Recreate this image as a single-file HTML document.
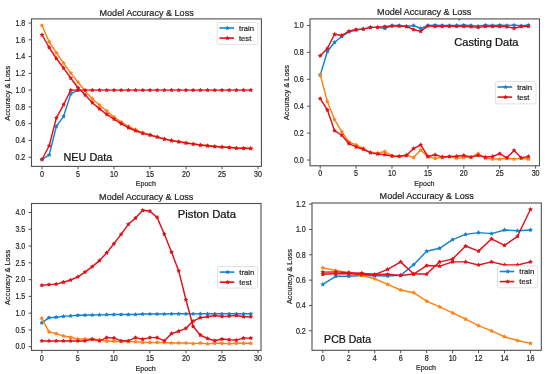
<!DOCTYPE html>
<html><head><meta charset="utf-8"><style>
html,body{margin:0;padding:0;background:#fff;width:550px;height:374px;overflow:hidden;}
svg{display:block;filter:blur(0.3px);}
text{font-family:"Liberation Sans", sans-serif;stroke:#222;stroke-width:0.2px;}
</style></head><body>
<svg width="550" height="374" viewBox="0 0 550 374" font-family='"Liberation Sans", sans-serif'>
<rect width="550" height="374" fill="#fff"/>
<clipPath id="c0"><rect x="28.5" y="15.899999999999999" width="235.89999999999998" height="153.5"/></clipPath>
<g clip-path="url(#c0)">
<polyline points="42.00,25.52 49.20,41.79 56.40,52.87 63.60,63.19 70.80,73.17 78.00,82.23 85.20,90.96 92.40,98.76 99.60,105.22 106.80,111.10 114.00,117.14 121.20,122.00 128.40,126.36 135.60,129.72 142.80,132.66 150.00,134.75 157.20,136.85 164.40,138.87 171.60,140.46 178.80,141.63 186.00,142.81 193.20,143.90 200.40,144.91 207.60,145.66 214.80,146.42 222.00,146.92 229.20,147.51 236.40,148.01 243.60,148.26 250.80,148.51" fill="none" stroke="#ff8214" stroke-width="1.45" stroke-linejoin="round" stroke-linecap="round"/>
<path d="M42.00,23.12 L42.79,24.42 L44.28,24.78 L43.28,25.93 L43.41,27.46 L42.00,26.87 L40.59,27.46 L40.72,25.93 L39.72,24.78 L41.21,24.42Z M49.20,39.39 L49.99,40.70 L51.48,41.05 L50.48,42.21 L50.61,43.74 L49.20,43.14 L47.79,43.74 L47.92,42.21 L46.92,41.05 L48.41,40.70Z M56.40,50.47 L57.19,51.78 L58.68,52.13 L57.68,53.29 L57.81,54.81 L56.40,54.22 L54.99,54.81 L55.12,53.29 L54.12,52.13 L55.61,51.78Z M63.60,60.79 L64.39,62.10 L65.88,62.45 L64.88,63.61 L65.01,65.13 L63.60,64.54 L62.19,65.13 L62.32,63.61 L61.32,62.45 L62.81,62.10Z M70.80,70.77 L71.59,72.08 L73.08,72.43 L72.08,73.59 L72.21,75.11 L70.80,74.52 L69.39,75.11 L69.52,73.59 L68.52,72.43 L70.01,72.08Z M78.00,79.83 L78.79,81.14 L80.28,81.49 L79.28,82.65 L79.41,84.18 L78.00,83.58 L76.59,84.18 L76.72,82.65 L75.72,81.49 L77.21,81.14Z M85.20,88.56 L85.99,89.87 L87.48,90.22 L86.48,91.38 L86.61,92.90 L85.20,92.31 L83.79,92.90 L83.92,91.38 L82.92,90.22 L84.41,89.87Z M92.40,96.36 L93.19,97.67 L94.68,98.02 L93.68,99.18 L93.81,100.70 L92.40,100.11 L90.99,100.70 L91.12,99.18 L90.12,98.02 L91.61,97.67Z M99.60,102.82 L100.39,104.13 L101.88,104.48 L100.88,105.64 L101.01,107.16 L99.60,106.57 L98.19,107.16 L98.32,105.64 L97.32,104.48 L98.81,104.13Z M106.80,108.70 L107.59,110.00 L109.08,110.35 L108.08,111.51 L108.21,113.04 L106.80,112.45 L105.39,113.04 L105.52,111.51 L104.52,110.35 L106.01,110.00Z M114.00,114.74 L114.79,116.04 L116.28,116.39 L115.28,117.55 L115.41,119.08 L114.00,118.49 L112.59,119.08 L112.72,117.55 L111.72,116.39 L113.21,116.04Z M121.20,119.60 L121.99,120.91 L123.48,121.26 L122.48,122.42 L122.61,123.94 L121.20,123.35 L119.79,123.94 L119.92,122.42 L118.92,121.26 L120.41,120.91Z M128.40,123.96 L129.19,125.27 L130.68,125.62 L129.68,126.78 L129.81,128.31 L128.40,127.71 L126.99,128.31 L127.12,126.78 L126.12,125.62 L127.61,125.27Z M135.60,127.32 L136.39,128.63 L137.88,128.98 L136.88,130.14 L137.01,131.66 L135.60,131.07 L134.19,131.66 L134.32,130.14 L133.32,128.98 L134.81,128.63Z M142.80,130.26 L143.59,131.57 L145.08,131.92 L144.08,133.07 L144.21,134.60 L142.80,134.01 L141.39,134.60 L141.52,133.07 L140.52,131.92 L142.01,131.57Z M150.00,132.35 L150.79,133.66 L152.28,134.01 L151.28,135.17 L151.41,136.70 L150.00,136.10 L148.59,136.70 L148.72,135.17 L147.72,134.01 L149.21,133.66Z M157.20,134.45 L157.99,135.76 L159.48,136.11 L158.48,137.27 L158.61,138.79 L157.20,138.20 L155.79,138.79 L155.92,137.27 L154.92,136.11 L156.41,135.76Z M164.40,136.47 L165.19,137.77 L166.68,138.12 L165.68,139.28 L165.81,140.81 L164.40,140.22 L162.99,140.81 L163.12,139.28 L162.12,138.12 L163.61,137.77Z M171.60,138.06 L172.39,139.37 L173.88,139.72 L172.88,140.88 L173.01,142.40 L171.60,141.81 L170.19,142.40 L170.32,140.88 L169.32,139.72 L170.81,139.37Z M178.80,139.23 L179.59,140.54 L181.08,140.89 L180.08,142.05 L180.21,143.58 L178.80,142.98 L177.39,143.58 L177.52,142.05 L176.52,140.89 L178.01,140.54Z M186.00,140.41 L186.79,141.72 L188.28,142.07 L187.28,143.23 L187.41,144.75 L186.00,144.16 L184.59,144.75 L184.72,143.23 L183.72,142.07 L185.21,141.72Z M193.20,141.50 L193.99,142.81 L195.48,143.16 L194.48,144.32 L194.61,145.84 L193.20,145.25 L191.79,145.84 L191.92,144.32 L190.92,143.16 L192.41,142.81Z M200.40,142.51 L201.19,143.81 L202.68,144.17 L201.68,145.32 L201.81,146.85 L200.40,146.26 L198.99,146.85 L199.12,145.32 L198.12,144.17 L199.61,143.81Z M207.60,143.26 L208.39,144.57 L209.88,144.92 L208.88,146.08 L209.01,147.60 L207.60,147.01 L206.19,147.60 L206.32,146.08 L205.32,144.92 L206.81,144.57Z M214.80,144.02 L215.59,145.32 L217.08,145.68 L216.08,146.83 L216.21,148.36 L214.80,147.77 L213.39,148.36 L213.52,146.83 L212.52,145.68 L214.01,145.32Z M222.00,144.52 L222.79,145.83 L224.28,146.18 L223.28,147.34 L223.41,148.86 L222.00,148.27 L220.59,148.86 L220.72,147.34 L219.72,146.18 L221.21,145.83Z M229.20,145.11 L229.99,146.42 L231.48,146.77 L230.48,147.92 L230.61,149.45 L229.20,148.86 L227.79,149.45 L227.92,147.92 L226.92,146.77 L228.41,146.42Z M236.40,145.61 L237.19,146.92 L238.68,147.27 L237.68,148.43 L237.81,149.95 L236.40,149.36 L234.99,149.95 L235.12,148.43 L234.12,147.27 L235.61,146.92Z M243.60,145.86 L244.39,147.17 L245.88,147.52 L244.88,148.68 L245.01,150.20 L243.60,149.61 L242.19,150.20 L242.32,148.68 L241.32,147.52 L242.81,147.17Z M250.80,146.11 L251.59,147.42 L253.08,147.77 L252.08,148.93 L252.21,150.46 L250.80,149.86 L249.39,150.46 L249.52,148.93 L248.52,147.77 L250.01,147.42Z" fill="#ff8214"/>
<polyline points="42.00,34.91 49.20,47.50 56.40,58.49 63.60,68.14 70.80,78.21 78.00,87.77 85.20,94.99 92.40,102.71 99.60,108.83 106.80,114.45 114.00,119.07 121.20,123.68 128.40,127.71 135.60,130.73 142.80,133.41 150.00,135.09 157.20,137.02 164.40,139.12 171.60,140.71 178.80,141.80 186.00,142.98 193.20,144.07 200.40,145.07 207.60,145.83 214.80,146.58 222.00,147.00 229.20,147.59 236.40,148.09 243.60,148.26 250.80,148.51" fill="none" stroke="#e2101a" stroke-width="1.45" stroke-linejoin="round" stroke-linecap="round"/>
<path d="M42.00,32.51 L42.79,33.82 L44.28,34.17 L43.28,35.33 L43.41,36.86 L42.00,36.26 L40.59,36.86 L40.72,35.33 L39.72,34.17 L41.21,33.82Z M49.20,45.10 L49.99,46.41 L51.48,46.76 L50.48,47.92 L50.61,49.44 L49.20,48.85 L47.79,49.44 L47.92,47.92 L46.92,46.76 L48.41,46.41Z M56.40,56.09 L57.19,57.40 L58.68,57.75 L57.68,58.91 L57.81,60.43 L56.40,59.84 L54.99,60.43 L55.12,58.91 L54.12,57.75 L55.61,57.40Z M63.60,65.74 L64.39,67.05 L65.88,67.40 L64.88,68.56 L65.01,70.08 L63.60,69.49 L62.19,70.08 L62.32,68.56 L61.32,67.40 L62.81,67.05Z M70.80,75.81 L71.59,77.11 L73.08,77.46 L72.08,78.62 L72.21,80.15 L70.80,79.56 L69.39,80.15 L69.52,78.62 L68.52,77.46 L70.01,77.11Z M78.00,85.37 L78.79,86.68 L80.28,87.03 L79.28,88.19 L79.41,89.71 L78.00,89.12 L76.59,89.71 L76.72,88.19 L75.72,87.03 L77.21,86.68Z M85.20,92.59 L85.99,93.89 L87.48,94.24 L86.48,95.40 L86.61,96.93 L85.20,96.34 L83.79,96.93 L83.92,95.40 L82.92,94.24 L84.41,93.89Z M92.40,100.31 L93.19,101.61 L94.68,101.96 L93.68,103.12 L93.81,104.65 L92.40,104.06 L90.99,104.65 L91.12,103.12 L90.12,101.96 L91.61,101.61Z M99.60,106.43 L100.39,107.74 L101.88,108.09 L100.88,109.25 L101.01,110.77 L99.60,110.18 L98.19,110.77 L98.32,109.25 L97.32,108.09 L98.81,107.74Z M106.80,112.05 L107.59,113.36 L109.08,113.71 L108.08,114.87 L108.21,116.39 L106.80,115.80 L105.39,116.39 L105.52,114.87 L104.52,113.71 L106.01,113.36Z M114.00,116.67 L114.79,117.97 L116.28,118.32 L115.28,119.48 L115.41,121.01 L114.00,120.42 L112.59,121.01 L112.72,119.48 L111.72,118.32 L113.21,117.97Z M121.20,121.28 L121.99,122.59 L123.48,122.94 L122.48,124.10 L122.61,125.62 L121.20,125.03 L119.79,125.62 L119.92,124.10 L118.92,122.94 L120.41,122.59Z M128.40,125.31 L129.19,126.62 L130.68,126.97 L129.68,128.12 L129.81,129.65 L128.40,129.06 L126.99,129.65 L127.12,128.12 L126.12,126.97 L127.61,126.62Z M135.60,128.33 L136.39,129.64 L137.88,129.99 L136.88,131.14 L137.01,132.67 L135.60,132.08 L134.19,132.67 L134.32,131.14 L133.32,129.99 L134.81,129.64Z M142.80,131.01 L143.59,132.32 L145.08,132.67 L144.08,133.83 L144.21,135.35 L142.80,134.76 L141.39,135.35 L141.52,133.83 L140.52,132.67 L142.01,132.32Z M150.00,132.69 L150.79,134.00 L152.28,134.35 L151.28,135.51 L151.41,137.03 L150.00,136.44 L148.59,137.03 L148.72,135.51 L147.72,134.35 L149.21,134.00Z M157.20,134.62 L157.99,135.93 L159.48,136.28 L158.48,137.44 L158.61,138.96 L157.20,138.37 L155.79,138.96 L155.92,137.44 L154.92,136.28 L156.41,135.93Z M164.40,136.72 L165.19,138.03 L166.68,138.38 L165.68,139.53 L165.81,141.06 L164.40,140.47 L162.99,141.06 L163.12,139.53 L162.12,138.38 L163.61,138.03Z M171.60,138.31 L172.39,139.62 L173.88,139.97 L172.88,141.13 L173.01,142.65 L171.60,142.06 L170.19,142.65 L170.32,141.13 L169.32,139.97 L170.81,139.62Z M178.80,139.40 L179.59,140.71 L181.08,141.06 L180.08,142.22 L180.21,143.74 L178.80,143.15 L177.39,143.74 L177.52,142.22 L176.52,141.06 L178.01,140.71Z M186.00,140.58 L186.79,141.88 L188.28,142.24 L187.28,143.39 L187.41,144.92 L186.00,144.33 L184.59,144.92 L184.72,143.39 L183.72,142.24 L185.21,141.88Z M193.20,141.67 L193.99,142.98 L195.48,143.33 L194.48,144.48 L194.61,146.01 L193.20,145.42 L191.79,146.01 L191.92,144.48 L190.92,143.33 L192.41,142.98Z M200.40,142.67 L201.19,143.98 L202.68,144.33 L201.68,145.49 L201.81,147.02 L200.40,146.42 L198.99,147.02 L199.12,145.49 L198.12,144.33 L199.61,143.98Z M207.60,143.43 L208.39,144.74 L209.88,145.09 L208.88,146.25 L209.01,147.77 L207.60,147.18 L206.19,147.77 L206.32,146.25 L205.32,145.09 L206.81,144.74Z M214.80,144.18 L215.59,145.49 L217.08,145.84 L216.08,147.00 L216.21,148.53 L214.80,147.93 L213.39,148.53 L213.52,147.00 L212.52,145.84 L214.01,145.49Z M222.00,144.60 L222.79,145.91 L224.28,146.26 L223.28,147.42 L223.41,148.95 L222.00,148.35 L220.59,148.95 L220.72,147.42 L219.72,146.26 L221.21,145.91Z M229.20,145.19 L229.99,146.50 L231.48,146.85 L230.48,148.01 L230.61,149.53 L229.20,148.94 L227.79,149.53 L227.92,148.01 L226.92,146.85 L228.41,146.50Z M236.40,145.69 L237.19,147.00 L238.68,147.35 L237.68,148.51 L237.81,150.04 L236.40,149.44 L234.99,150.04 L235.12,148.51 L234.12,147.35 L235.61,147.00Z M243.60,145.86 L244.39,147.17 L245.88,147.52 L244.88,148.68 L245.01,150.20 L243.60,149.61 L242.19,150.20 L242.32,148.68 L241.32,147.52 L242.81,147.17Z M250.80,146.11 L251.59,147.42 L253.08,147.77 L252.08,148.93 L252.21,150.46 L250.80,149.86 L249.39,150.46 L249.52,148.93 L248.52,147.77 L250.01,147.42Z" fill="#e2101a"/>
<polyline points="42.00,159.51 49.20,154.89 56.40,126.36 63.60,116.30 70.80,93.90 78.00,90.12" fill="none" stroke="#1283d2" stroke-width="1.45" stroke-linejoin="round" stroke-linecap="round"/>
<path d="M42.00,157.11 L42.79,158.41 L44.28,158.76 L43.28,159.92 L43.41,161.45 L42.00,160.86 L40.59,161.45 L40.72,159.92 L39.72,158.76 L41.21,158.41Z M49.20,152.49 L49.99,153.80 L51.48,154.15 L50.48,155.31 L50.61,156.83 L49.20,156.24 L47.79,156.83 L47.92,155.31 L46.92,154.15 L48.41,153.80Z M56.40,123.96 L57.19,125.27 L58.68,125.62 L57.68,126.78 L57.81,128.31 L56.40,127.71 L54.99,128.31 L55.12,126.78 L54.12,125.62 L55.61,125.27Z M63.60,113.90 L64.39,115.20 L65.88,115.56 L64.88,116.71 L65.01,118.24 L63.60,117.65 L62.19,118.24 L62.32,116.71 L61.32,115.56 L62.81,115.20Z M70.80,91.50 L71.59,92.80 L73.08,93.15 L72.08,94.31 L72.21,95.84 L70.80,95.25 L69.39,95.84 L69.52,94.31 L68.52,93.15 L70.01,92.80Z M78.00,87.72 L78.79,89.03 L80.28,89.38 L79.28,90.54 L79.41,92.06 L78.00,91.47 L76.59,92.06 L76.72,90.54 L75.72,89.38 L77.21,89.03Z" fill="#1283d2"/>
<polyline points="42.00,159.51 49.20,145.75 56.40,117.81 63.60,104.55 70.80,90.12 78.00,90.12 85.20,90.12 92.40,90.12 99.60,90.12 106.80,90.12 114.00,90.12 121.20,90.12 128.40,90.12 135.60,90.12 142.80,90.12 150.00,90.12 157.20,90.12 164.40,90.12 171.60,90.12 178.80,90.12 186.00,90.12 193.20,90.12 200.40,90.12 207.60,90.12 214.80,90.12 222.00,90.12 229.20,90.12 236.40,90.12 243.60,90.12 250.80,90.12" fill="none" stroke="#e2101a" stroke-width="1.45" stroke-linejoin="round" stroke-linecap="round"/>
<path d="M42.00,157.11 L42.79,158.41 L44.28,158.76 L43.28,159.92 L43.41,161.45 L42.00,160.86 L40.59,161.45 L40.72,159.92 L39.72,158.76 L41.21,158.41Z M49.20,143.35 L49.99,144.65 L51.48,145.00 L50.48,146.16 L50.61,147.69 L49.20,147.10 L47.79,147.69 L47.92,146.16 L46.92,145.00 L48.41,144.65Z M56.40,115.41 L57.19,116.71 L58.68,117.07 L57.68,118.22 L57.81,119.75 L56.40,119.16 L54.99,119.75 L55.12,118.22 L54.12,117.07 L55.61,116.71Z M63.60,102.15 L64.39,103.46 L65.88,103.81 L64.88,104.97 L65.01,106.49 L63.60,105.90 L62.19,106.49 L62.32,104.97 L61.32,103.81 L62.81,103.46Z M70.80,87.72 L71.59,89.03 L73.08,89.38 L72.08,90.54 L72.21,92.06 L70.80,91.47 L69.39,92.06 L69.52,90.54 L68.52,89.38 L70.01,89.03Z M78.00,87.72 L78.79,89.03 L80.28,89.38 L79.28,90.54 L79.41,92.06 L78.00,91.47 L76.59,92.06 L76.72,90.54 L75.72,89.38 L77.21,89.03Z M85.20,87.72 L85.99,89.03 L87.48,89.38 L86.48,90.54 L86.61,92.06 L85.20,91.47 L83.79,92.06 L83.92,90.54 L82.92,89.38 L84.41,89.03Z M92.40,87.72 L93.19,89.03 L94.68,89.38 L93.68,90.54 L93.81,92.06 L92.40,91.47 L90.99,92.06 L91.12,90.54 L90.12,89.38 L91.61,89.03Z M99.60,87.72 L100.39,89.03 L101.88,89.38 L100.88,90.54 L101.01,92.06 L99.60,91.47 L98.19,92.06 L98.32,90.54 L97.32,89.38 L98.81,89.03Z M106.80,87.72 L107.59,89.03 L109.08,89.38 L108.08,90.54 L108.21,92.06 L106.80,91.47 L105.39,92.06 L105.52,90.54 L104.52,89.38 L106.01,89.03Z M114.00,87.72 L114.79,89.03 L116.28,89.38 L115.28,90.54 L115.41,92.06 L114.00,91.47 L112.59,92.06 L112.72,90.54 L111.72,89.38 L113.21,89.03Z M121.20,87.72 L121.99,89.03 L123.48,89.38 L122.48,90.54 L122.61,92.06 L121.20,91.47 L119.79,92.06 L119.92,90.54 L118.92,89.38 L120.41,89.03Z M128.40,87.72 L129.19,89.03 L130.68,89.38 L129.68,90.54 L129.81,92.06 L128.40,91.47 L126.99,92.06 L127.12,90.54 L126.12,89.38 L127.61,89.03Z M135.60,87.72 L136.39,89.03 L137.88,89.38 L136.88,90.54 L137.01,92.06 L135.60,91.47 L134.19,92.06 L134.32,90.54 L133.32,89.38 L134.81,89.03Z M142.80,87.72 L143.59,89.03 L145.08,89.38 L144.08,90.54 L144.21,92.06 L142.80,91.47 L141.39,92.06 L141.52,90.54 L140.52,89.38 L142.01,89.03Z M150.00,87.72 L150.79,89.03 L152.28,89.38 L151.28,90.54 L151.41,92.06 L150.00,91.47 L148.59,92.06 L148.72,90.54 L147.72,89.38 L149.21,89.03Z M157.20,87.72 L157.99,89.03 L159.48,89.38 L158.48,90.54 L158.61,92.06 L157.20,91.47 L155.79,92.06 L155.92,90.54 L154.92,89.38 L156.41,89.03Z M164.40,87.72 L165.19,89.03 L166.68,89.38 L165.68,90.54 L165.81,92.06 L164.40,91.47 L162.99,92.06 L163.12,90.54 L162.12,89.38 L163.61,89.03Z M171.60,87.72 L172.39,89.03 L173.88,89.38 L172.88,90.54 L173.01,92.06 L171.60,91.47 L170.19,92.06 L170.32,90.54 L169.32,89.38 L170.81,89.03Z M178.80,87.72 L179.59,89.03 L181.08,89.38 L180.08,90.54 L180.21,92.06 L178.80,91.47 L177.39,92.06 L177.52,90.54 L176.52,89.38 L178.01,89.03Z M186.00,87.72 L186.79,89.03 L188.28,89.38 L187.28,90.54 L187.41,92.06 L186.00,91.47 L184.59,92.06 L184.72,90.54 L183.72,89.38 L185.21,89.03Z M193.20,87.72 L193.99,89.03 L195.48,89.38 L194.48,90.54 L194.61,92.06 L193.20,91.47 L191.79,92.06 L191.92,90.54 L190.92,89.38 L192.41,89.03Z M200.40,87.72 L201.19,89.03 L202.68,89.38 L201.68,90.54 L201.81,92.06 L200.40,91.47 L198.99,92.06 L199.12,90.54 L198.12,89.38 L199.61,89.03Z M207.60,87.72 L208.39,89.03 L209.88,89.38 L208.88,90.54 L209.01,92.06 L207.60,91.47 L206.19,92.06 L206.32,90.54 L205.32,89.38 L206.81,89.03Z M214.80,87.72 L215.59,89.03 L217.08,89.38 L216.08,90.54 L216.21,92.06 L214.80,91.47 L213.39,92.06 L213.52,90.54 L212.52,89.38 L214.01,89.03Z M222.00,87.72 L222.79,89.03 L224.28,89.38 L223.28,90.54 L223.41,92.06 L222.00,91.47 L220.59,92.06 L220.72,90.54 L219.72,89.38 L221.21,89.03Z M229.20,87.72 L229.99,89.03 L231.48,89.38 L230.48,90.54 L230.61,92.06 L229.20,91.47 L227.79,92.06 L227.92,90.54 L226.92,89.38 L228.41,89.03Z M236.40,87.72 L237.19,89.03 L238.68,89.38 L237.68,90.54 L237.81,92.06 L236.40,91.47 L234.99,92.06 L235.12,90.54 L234.12,89.38 L235.61,89.03Z M243.60,87.72 L244.39,89.03 L245.88,89.38 L244.88,90.54 L245.01,92.06 L243.60,91.47 L242.19,92.06 L242.32,90.54 L241.32,89.38 L242.81,89.03Z M250.80,87.72 L251.59,89.03 L253.08,89.38 L252.08,90.54 L252.21,92.06 L250.80,91.47 L249.39,92.06 L249.52,90.54 L248.52,89.38 L250.01,89.03Z" fill="#e2101a"/>
</g>
<rect x="31.5" y="18.9" width="229.89999999999998" height="147.5" fill="none" stroke="#4f4f4f" stroke-width="1.1"/>
<line x1="42.00" y1="166.4" x2="42.00" y2="169.3" stroke="#4f4f4f" stroke-width="1.0"/>
<text x="42.00" y="176.80" font-size="8.3" text-anchor="middle" fill="#262626" textLength="3.96" lengthAdjust="spacingAndGlyphs">0</text>
<line x1="78.00" y1="166.4" x2="78.00" y2="169.3" stroke="#4f4f4f" stroke-width="1.0"/>
<text x="78.00" y="176.80" font-size="8.3" text-anchor="middle" fill="#262626" textLength="3.96" lengthAdjust="spacingAndGlyphs">5</text>
<line x1="114.00" y1="166.4" x2="114.00" y2="169.3" stroke="#4f4f4f" stroke-width="1.0"/>
<text x="114.00" y="176.80" font-size="8.3" text-anchor="middle" fill="#262626" textLength="7.92" lengthAdjust="spacingAndGlyphs">10</text>
<line x1="150.00" y1="166.4" x2="150.00" y2="169.3" stroke="#4f4f4f" stroke-width="1.0"/>
<text x="150.00" y="176.80" font-size="8.3" text-anchor="middle" fill="#262626" textLength="7.92" lengthAdjust="spacingAndGlyphs">15</text>
<line x1="186.00" y1="166.4" x2="186.00" y2="169.3" stroke="#4f4f4f" stroke-width="1.0"/>
<text x="186.00" y="176.80" font-size="8.3" text-anchor="middle" fill="#262626" textLength="7.92" lengthAdjust="spacingAndGlyphs">20</text>
<line x1="222.00" y1="166.4" x2="222.00" y2="169.3" stroke="#4f4f4f" stroke-width="1.0"/>
<text x="222.00" y="176.80" font-size="8.3" text-anchor="middle" fill="#262626" textLength="7.92" lengthAdjust="spacingAndGlyphs">25</text>
<line x1="258.00" y1="166.4" x2="258.00" y2="169.3" stroke="#4f4f4f" stroke-width="1.0"/>
<text x="258.00" y="176.80" font-size="8.3" text-anchor="middle" fill="#262626" textLength="7.92" lengthAdjust="spacingAndGlyphs">30</text>
<line x1="28.6" y1="157.24" x2="31.5" y2="157.24" stroke="#4f4f4f" stroke-width="1.0"/>
<text x="25.3" y="159.99" font-size="8.3" text-anchor="end" fill="#262626" textLength="9.90" lengthAdjust="spacingAndGlyphs">0.2</text>
<line x1="28.6" y1="140.46" x2="31.5" y2="140.46" stroke="#4f4f4f" stroke-width="1.0"/>
<text x="25.3" y="143.21" font-size="8.3" text-anchor="end" fill="#262626" textLength="9.90" lengthAdjust="spacingAndGlyphs">0.4</text>
<line x1="28.6" y1="123.68" x2="31.5" y2="123.68" stroke="#4f4f4f" stroke-width="1.0"/>
<text x="25.3" y="126.43" font-size="8.3" text-anchor="end" fill="#262626" textLength="9.90" lengthAdjust="spacingAndGlyphs">0.6</text>
<line x1="28.6" y1="106.90" x2="31.5" y2="106.90" stroke="#4f4f4f" stroke-width="1.0"/>
<text x="25.3" y="109.65" font-size="8.3" text-anchor="end" fill="#262626" textLength="9.90" lengthAdjust="spacingAndGlyphs">0.8</text>
<line x1="28.6" y1="90.12" x2="31.5" y2="90.12" stroke="#4f4f4f" stroke-width="1.0"/>
<text x="25.3" y="92.87" font-size="8.3" text-anchor="end" fill="#262626" textLength="9.90" lengthAdjust="spacingAndGlyphs">1.0</text>
<line x1="28.6" y1="73.34" x2="31.5" y2="73.34" stroke="#4f4f4f" stroke-width="1.0"/>
<text x="25.3" y="76.09" font-size="8.3" text-anchor="end" fill="#262626" textLength="9.90" lengthAdjust="spacingAndGlyphs">1.2</text>
<line x1="28.6" y1="56.56" x2="31.5" y2="56.56" stroke="#4f4f4f" stroke-width="1.0"/>
<text x="25.3" y="59.31" font-size="8.3" text-anchor="end" fill="#262626" textLength="9.90" lengthAdjust="spacingAndGlyphs">1.4</text>
<line x1="28.6" y1="39.78" x2="31.5" y2="39.78" stroke="#4f4f4f" stroke-width="1.0"/>
<text x="25.3" y="42.53" font-size="8.3" text-anchor="end" fill="#262626" textLength="9.90" lengthAdjust="spacingAndGlyphs">1.6</text>
<line x1="28.6" y1="23.00" x2="31.5" y2="23.00" stroke="#4f4f4f" stroke-width="1.0"/>
<text x="25.3" y="25.75" font-size="8.3" text-anchor="end" fill="#262626" textLength="9.90" lengthAdjust="spacingAndGlyphs">1.8</text>
<text x="146.6" y="15.6" font-size="9.0" text-anchor="middle" fill="#262626" textLength="94.2" lengthAdjust="spacingAndGlyphs">Model Accuracy &amp; Loss</text>
<text x="145.8" y="186.4" font-size="7.6" text-anchor="middle" fill="#262626" textLength="20.2" lengthAdjust="spacingAndGlyphs">Epoch</text>
<text transform="translate(9.8,93.3) rotate(-90)" x="0" y="0" font-size="7.6" text-anchor="middle" fill="#262626" textLength="55" lengthAdjust="spacingAndGlyphs">Accuracy &amp; Loss</text>
<rect x="217.2" y="22.4" width="40.69999999999999" height="22.0" rx="1.6" fill="#fff" fill-opacity="0.85" stroke="#d9d9d9" stroke-width="0.8"/>
<line x1="219.39999999999998" y1="28.00" x2="234.0" y2="28.00" stroke="#1283d2" stroke-width="1.6"/>
<path d="M227.40,25.60 L228.19,26.91 L229.68,27.26 L228.68,28.42 L228.81,29.94 L227.40,29.35 L225.99,29.94 L226.12,28.42 L225.12,27.26 L226.61,26.91Z" fill="#1283d2"/>
<text x="239.0" y="30.60" font-size="7.6" fill="#262626" textLength="14.9" lengthAdjust="spacingAndGlyphs">train</text>
<line x1="219.39999999999998" y1="38.10" x2="234.0" y2="38.10" stroke="#e2101a" stroke-width="1.6"/>
<path d="M227.40,35.70 L228.19,37.01 L229.68,37.36 L228.68,38.52 L228.81,40.04 L227.40,39.45 L225.99,40.04 L226.12,38.52 L225.12,37.36 L226.61,37.01Z" fill="#e2101a"/>
<text x="239.0" y="40.70" font-size="7.6" fill="#262626" textLength="12.3" lengthAdjust="spacingAndGlyphs">test</text>
<text x="63.5" y="160.7" font-size="10.2" fill="#111" style="stroke:#111;stroke-width:0.22px" textLength="48.8" lengthAdjust="spacingAndGlyphs">NEU Data</text>
<clipPath id="c1"><rect x="307.0" y="15.899999999999999" width="235.5" height="152.9"/></clipPath>
<g clip-path="url(#c1)">
<polyline points="320.20,75.27 327.38,51.46 334.56,42.31 341.74,36.53 348.92,31.69 356.10,29.94 363.28,28.86 370.46,27.38 377.64,27.38 384.82,28.46 392.00,25.50 399.18,25.50 406.36,26.58 413.54,25.50 420.72,28.46 427.90,25.50 435.08,25.10 442.26,25.50 449.44,25.50 456.62,25.50 463.80,25.10 470.98,25.50 478.16,26.17 485.34,25.10 492.52,25.50 499.70,25.10 506.88,25.50 514.06,25.10 521.24,25.77 528.42,25.10" fill="none" stroke="#1283d2" stroke-width="1.45" stroke-linejoin="round" stroke-linecap="round"/>
<path d="M320.20,72.86 L320.99,74.17 L322.48,74.52 L321.48,75.68 L321.61,77.21 L320.20,76.61 L318.79,77.21 L318.92,75.68 L317.92,74.52 L319.41,74.17Z M327.38,49.06 L328.17,50.37 L329.66,50.72 L328.66,51.88 L328.79,53.40 L327.38,52.81 L325.97,53.40 L326.10,51.88 L325.10,50.72 L326.59,50.37Z M334.56,39.91 L335.35,41.22 L336.84,41.57 L335.84,42.73 L335.97,44.25 L334.56,43.66 L333.15,44.25 L333.28,42.73 L332.28,41.57 L333.77,41.22Z M341.74,34.13 L342.53,35.44 L344.02,35.79 L343.02,36.95 L343.15,38.47 L341.74,37.88 L340.33,38.47 L340.46,36.95 L339.46,35.79 L340.95,35.44Z M348.92,29.29 L349.71,30.59 L351.20,30.95 L350.20,32.10 L350.33,33.63 L348.92,33.04 L347.51,33.63 L347.64,32.10 L346.64,30.95 L348.13,30.59Z M356.10,27.54 L356.89,28.85 L358.38,29.20 L357.38,30.36 L357.51,31.88 L356.10,31.29 L354.69,31.88 L354.82,30.36 L353.82,29.20 L355.31,28.85Z M363.28,26.46 L364.07,27.77 L365.56,28.12 L364.56,29.28 L364.69,30.80 L363.28,30.21 L361.87,30.80 L362.00,29.28 L361.00,28.12 L362.49,27.77Z M370.46,24.98 L371.25,26.29 L372.74,26.64 L371.74,27.80 L371.87,29.32 L370.46,28.73 L369.05,29.32 L369.18,27.80 L368.18,26.64 L369.67,26.29Z M377.64,24.98 L378.43,26.29 L379.92,26.64 L378.92,27.80 L379.05,29.32 L377.64,28.73 L376.23,29.32 L376.36,27.80 L375.36,26.64 L376.85,26.29Z M384.82,26.06 L385.61,27.37 L387.10,27.72 L386.10,28.88 L386.23,30.40 L384.82,29.81 L383.41,30.40 L383.54,28.88 L382.54,27.72 L384.03,27.37Z M392.00,23.10 L392.79,24.41 L394.28,24.76 L393.28,25.92 L393.41,27.44 L392.00,26.85 L390.59,27.44 L390.72,25.92 L389.72,24.76 L391.21,24.41Z M399.18,23.10 L399.97,24.41 L401.46,24.76 L400.46,25.92 L400.59,27.44 L399.18,26.85 L397.77,27.44 L397.90,25.92 L396.90,24.76 L398.39,24.41Z M406.36,24.18 L407.15,25.48 L408.64,25.83 L407.64,26.99 L407.77,28.52 L406.36,27.93 L404.95,28.52 L405.08,26.99 L404.08,25.83 L405.57,25.48Z M413.54,23.10 L414.33,24.41 L415.82,24.76 L414.82,25.92 L414.95,27.44 L413.54,26.85 L412.13,27.44 L412.26,25.92 L411.26,24.76 L412.75,24.41Z M420.72,26.06 L421.51,27.37 L423.00,27.72 L422.00,28.88 L422.13,30.40 L420.72,29.81 L419.31,30.40 L419.44,28.88 L418.44,27.72 L419.93,27.37Z M427.90,23.10 L428.69,24.41 L430.18,24.76 L429.18,25.92 L429.31,27.44 L427.90,26.85 L426.49,27.44 L426.62,25.92 L425.62,24.76 L427.11,24.41Z M435.08,22.70 L435.87,24.00 L437.36,24.35 L436.36,25.51 L436.49,27.04 L435.08,26.45 L433.67,27.04 L433.80,25.51 L432.80,24.35 L434.29,24.00Z M442.26,23.10 L443.05,24.41 L444.54,24.76 L443.54,25.92 L443.67,27.44 L442.26,26.85 L440.85,27.44 L440.98,25.92 L439.98,24.76 L441.47,24.41Z M449.44,23.10 L450.23,24.41 L451.72,24.76 L450.72,25.92 L450.85,27.44 L449.44,26.85 L448.03,27.44 L448.16,25.92 L447.16,24.76 L448.65,24.41Z M456.62,23.10 L457.41,24.41 L458.90,24.76 L457.90,25.92 L458.03,27.44 L456.62,26.85 L455.21,27.44 L455.34,25.92 L454.34,24.76 L455.83,24.41Z M463.80,22.70 L464.59,24.00 L466.08,24.35 L465.08,25.51 L465.21,27.04 L463.80,26.45 L462.39,27.04 L462.52,25.51 L461.52,24.35 L463.01,24.00Z M470.98,23.10 L471.77,24.41 L473.26,24.76 L472.26,25.92 L472.39,27.44 L470.98,26.85 L469.57,27.44 L469.70,25.92 L468.70,24.76 L470.19,24.41Z M478.16,23.77 L478.95,25.08 L480.44,25.43 L479.44,26.59 L479.57,28.11 L478.16,27.52 L476.75,28.11 L476.88,26.59 L475.88,25.43 L477.37,25.08Z M485.34,22.70 L486.13,24.00 L487.62,24.35 L486.62,25.51 L486.75,27.04 L485.34,26.45 L483.93,27.04 L484.06,25.51 L483.06,24.35 L484.55,24.00Z M492.52,23.10 L493.31,24.41 L494.80,24.76 L493.80,25.92 L493.93,27.44 L492.52,26.85 L491.11,27.44 L491.24,25.92 L490.24,24.76 L491.73,24.41Z M499.70,22.70 L500.49,24.00 L501.98,24.35 L500.98,25.51 L501.11,27.04 L499.70,26.45 L498.29,27.04 L498.42,25.51 L497.42,24.35 L498.91,24.00Z M506.88,23.10 L507.67,24.41 L509.16,24.76 L508.16,25.92 L508.29,27.44 L506.88,26.85 L505.47,27.44 L505.60,25.92 L504.60,24.76 L506.09,24.41Z M514.06,22.70 L514.85,24.00 L516.34,24.35 L515.34,25.51 L515.47,27.04 L514.06,26.45 L512.65,27.04 L512.78,25.51 L511.78,24.35 L513.27,24.00Z M521.24,23.37 L522.03,24.68 L523.52,25.03 L522.52,26.19 L522.65,27.71 L521.24,27.12 L519.83,27.71 L519.96,26.19 L518.96,25.03 L520.45,24.68Z M528.42,22.70 L529.21,24.00 L530.70,24.35 L529.70,25.51 L529.83,27.04 L528.42,26.45 L527.01,27.04 L527.14,25.51 L526.14,24.35 L527.63,24.00Z" fill="#1283d2"/>
<polyline points="320.20,55.76 327.38,48.50 334.56,34.24 341.74,35.45 348.92,31.28 356.10,29.53 363.28,29.13 370.46,27.38 377.64,27.38 384.82,26.58 392.00,26.04 399.18,26.04 406.36,26.44 413.54,29.53 420.72,31.42 427.90,25.90 435.08,26.58 442.26,26.31 449.44,26.31 456.62,26.31 463.80,26.44 470.98,26.71 478.16,27.38 485.34,26.44 492.52,26.44 499.70,26.44 506.88,26.84 514.06,28.19 521.24,26.44 528.42,26.31" fill="none" stroke="#e2101a" stroke-width="1.45" stroke-linejoin="round" stroke-linecap="round"/>
<path d="M320.20,53.36 L320.99,54.67 L322.48,55.02 L321.48,56.18 L321.61,57.70 L320.20,57.11 L318.79,57.70 L318.92,56.18 L317.92,55.02 L319.41,54.67Z M327.38,46.10 L328.17,47.41 L329.66,47.76 L328.66,48.92 L328.79,50.44 L327.38,49.85 L325.97,50.44 L326.10,48.92 L325.10,47.76 L326.59,47.41Z M334.56,31.84 L335.35,33.15 L336.84,33.50 L335.84,34.66 L335.97,36.18 L334.56,35.59 L333.15,36.18 L333.28,34.66 L332.28,33.50 L333.77,33.15Z M341.74,33.05 L342.53,34.36 L344.02,34.71 L343.02,35.87 L343.15,37.39 L341.74,36.80 L340.33,37.39 L340.46,35.87 L339.46,34.71 L340.95,34.36Z M348.92,28.88 L349.71,30.19 L351.20,30.54 L350.20,31.70 L350.33,33.23 L348.92,32.63 L347.51,33.23 L347.64,31.70 L346.64,30.54 L348.13,30.19Z M356.10,27.13 L356.89,28.44 L358.38,28.79 L357.38,29.95 L357.51,31.48 L356.10,30.88 L354.69,31.48 L354.82,29.95 L353.82,28.79 L355.31,28.44Z M363.28,26.73 L364.07,28.04 L365.56,28.39 L364.56,29.55 L364.69,31.07 L363.28,30.48 L361.87,31.07 L362.00,29.55 L361.00,28.39 L362.49,28.04Z M370.46,24.98 L371.25,26.29 L372.74,26.64 L371.74,27.80 L371.87,29.32 L370.46,28.73 L369.05,29.32 L369.18,27.80 L368.18,26.64 L369.67,26.29Z M377.64,24.98 L378.43,26.29 L379.92,26.64 L378.92,27.80 L379.05,29.32 L377.64,28.73 L376.23,29.32 L376.36,27.80 L375.36,26.64 L376.85,26.29Z M384.82,24.18 L385.61,25.48 L387.10,25.83 L386.10,26.99 L386.23,28.52 L384.82,27.93 L383.41,28.52 L383.54,26.99 L382.54,25.83 L384.03,25.48Z M392.00,23.64 L392.79,24.95 L394.28,25.30 L393.28,26.46 L393.41,27.98 L392.00,27.39 L390.59,27.98 L390.72,26.46 L389.72,25.30 L391.21,24.95Z M399.18,23.64 L399.97,24.95 L401.46,25.30 L400.46,26.46 L400.59,27.98 L399.18,27.39 L397.77,27.98 L397.90,26.46 L396.90,25.30 L398.39,24.95Z M406.36,24.04 L407.15,25.35 L408.64,25.70 L407.64,26.86 L407.77,28.38 L406.36,27.79 L404.95,28.38 L405.08,26.86 L404.08,25.70 L405.57,25.35Z M413.54,27.13 L414.33,28.44 L415.82,28.79 L414.82,29.95 L414.95,31.48 L413.54,30.88 L412.13,31.48 L412.26,29.95 L411.26,28.79 L412.75,28.44Z M420.72,29.02 L421.51,30.33 L423.00,30.68 L422.00,31.84 L422.13,33.36 L420.72,32.77 L419.31,33.36 L419.44,31.84 L418.44,30.68 L419.93,30.33Z M427.90,23.50 L428.69,24.81 L430.18,25.16 L429.18,26.32 L429.31,27.85 L427.90,27.25 L426.49,27.85 L426.62,26.32 L425.62,25.16 L427.11,24.81Z M435.08,24.18 L435.87,25.48 L437.36,25.83 L436.36,26.99 L436.49,28.52 L435.08,27.93 L433.67,28.52 L433.80,26.99 L432.80,25.83 L434.29,25.48Z M442.26,23.91 L443.05,25.21 L444.54,25.57 L443.54,26.72 L443.67,28.25 L442.26,27.66 L440.85,28.25 L440.98,26.72 L439.98,25.57 L441.47,25.21Z M449.44,23.91 L450.23,25.21 L451.72,25.57 L450.72,26.72 L450.85,28.25 L449.44,27.66 L448.03,28.25 L448.16,26.72 L447.16,25.57 L448.65,25.21Z M456.62,23.91 L457.41,25.21 L458.90,25.57 L457.90,26.72 L458.03,28.25 L456.62,27.66 L455.21,28.25 L455.34,26.72 L454.34,25.57 L455.83,25.21Z M463.80,24.04 L464.59,25.35 L466.08,25.70 L465.08,26.86 L465.21,28.38 L463.80,27.79 L462.39,28.38 L462.52,26.86 L461.52,25.70 L463.01,25.35Z M470.98,24.31 L471.77,25.62 L473.26,25.97 L472.26,27.13 L472.39,28.65 L470.98,28.06 L469.57,28.65 L469.70,27.13 L468.70,25.97 L470.19,25.62Z M478.16,24.98 L478.95,26.29 L480.44,26.64 L479.44,27.80 L479.57,29.32 L478.16,28.73 L476.75,29.32 L476.88,27.80 L475.88,26.64 L477.37,26.29Z M485.34,24.04 L486.13,25.35 L487.62,25.70 L486.62,26.86 L486.75,28.38 L485.34,27.79 L483.93,28.38 L484.06,26.86 L483.06,25.70 L484.55,25.35Z M492.52,24.04 L493.31,25.35 L494.80,25.70 L493.80,26.86 L493.93,28.38 L492.52,27.79 L491.11,28.38 L491.24,26.86 L490.24,25.70 L491.73,25.35Z M499.70,24.04 L500.49,25.35 L501.98,25.70 L500.98,26.86 L501.11,28.38 L499.70,27.79 L498.29,28.38 L498.42,26.86 L497.42,25.70 L498.91,25.35Z M506.88,24.45 L507.67,25.75 L509.16,26.10 L508.16,27.26 L508.29,28.79 L506.88,28.20 L505.47,28.79 L505.60,27.26 L504.60,26.10 L506.09,25.75Z M514.06,25.79 L514.85,27.10 L516.34,27.45 L515.34,28.61 L515.47,30.13 L514.06,29.54 L512.65,30.13 L512.78,28.61 L511.78,27.45 L513.27,27.10Z M521.24,24.04 L522.03,25.35 L523.52,25.70 L522.52,26.86 L522.65,28.38 L521.24,27.79 L519.83,28.38 L519.96,26.86 L518.96,25.70 L520.45,25.35Z M528.42,23.91 L529.21,25.21 L530.70,25.57 L529.70,26.72 L529.83,28.25 L528.42,27.66 L527.01,28.25 L527.14,26.72 L526.14,25.57 L527.63,25.21Z" fill="#e2101a"/>
<polyline points="320.20,74.59 327.38,101.49 334.56,119.52 341.74,131.62 348.92,141.98 356.10,144.80 363.28,148.43 370.46,152.60 377.64,153.14 384.82,151.53 392.00,155.97 399.18,156.64 406.36,154.75 413.54,157.58 420.72,150.05 427.90,156.91 435.08,158.39 442.26,157.58 449.44,156.64 456.62,158.25 463.80,157.44 470.98,157.04 478.16,153.68 485.34,158.25 492.52,159.06 499.70,159.06 506.88,158.25 514.06,159.06 521.24,158.25 528.42,159.06" fill="none" stroke="#ff8214" stroke-width="1.45" stroke-linejoin="round" stroke-linecap="round"/>
<path d="M320.20,72.19 L320.99,73.50 L322.48,73.85 L321.48,75.01 L321.61,76.53 L320.20,75.94 L318.79,76.53 L318.92,75.01 L317.92,73.85 L319.41,73.50Z M327.38,99.09 L328.17,100.40 L329.66,100.75 L328.66,101.91 L328.79,103.43 L327.38,102.84 L325.97,103.43 L326.10,101.91 L325.10,100.75 L326.59,100.40Z M334.56,117.12 L335.35,118.42 L336.84,118.77 L335.84,119.93 L335.97,121.46 L334.56,120.87 L333.15,121.46 L333.28,119.93 L332.28,118.77 L333.77,118.42Z M341.74,129.22 L342.53,130.53 L344.02,130.88 L343.02,132.04 L343.15,133.56 L341.74,132.97 L340.33,133.56 L340.46,132.04 L339.46,130.88 L340.95,130.53Z M348.92,139.58 L349.71,140.88 L351.20,141.24 L350.20,142.39 L350.33,143.92 L348.92,143.33 L347.51,143.92 L347.64,142.39 L346.64,141.24 L348.13,140.88Z M356.10,142.40 L356.89,143.71 L358.38,144.06 L357.38,145.22 L357.51,146.74 L356.10,146.15 L354.69,146.74 L354.82,145.22 L353.82,144.06 L355.31,143.71Z M363.28,146.03 L364.07,147.34 L365.56,147.69 L364.56,148.85 L364.69,150.37 L363.28,149.78 L361.87,150.37 L362.00,148.85 L361.00,147.69 L362.49,147.34Z M370.46,150.20 L371.25,151.51 L372.74,151.86 L371.74,153.02 L371.87,154.54 L370.46,153.95 L369.05,154.54 L369.18,153.02 L368.18,151.86 L369.67,151.51Z M377.64,150.74 L378.43,152.05 L379.92,152.40 L378.92,153.56 L379.05,155.08 L377.64,154.49 L376.23,155.08 L376.36,153.56 L375.36,152.40 L376.85,152.05Z M384.82,149.13 L385.61,150.43 L387.10,150.78 L386.10,151.94 L386.23,153.47 L384.82,152.88 L383.41,153.47 L383.54,151.94 L382.54,150.78 L384.03,150.43Z M392.00,153.56 L392.79,154.87 L394.28,155.22 L393.28,156.38 L393.41,157.91 L392.00,157.31 L390.59,157.91 L390.72,156.38 L389.72,155.22 L391.21,154.87Z M399.18,154.24 L399.97,155.55 L401.46,155.90 L400.46,157.05 L400.59,158.58 L399.18,157.99 L397.77,158.58 L397.90,157.05 L396.90,155.90 L398.39,155.55Z M406.36,152.35 L407.15,153.66 L408.64,154.01 L407.64,155.17 L407.77,156.70 L406.36,156.10 L404.95,156.70 L405.08,155.17 L404.08,154.01 L405.57,153.66Z M413.54,155.18 L414.33,156.49 L415.82,156.84 L414.82,158.00 L414.95,159.52 L413.54,158.93 L412.13,159.52 L412.26,158.00 L411.26,156.84 L412.75,156.49Z M420.72,147.65 L421.51,148.95 L423.00,149.31 L422.00,150.46 L422.13,151.99 L420.72,151.40 L419.31,151.99 L419.44,150.46 L418.44,149.31 L419.93,148.95Z M427.90,154.51 L428.69,155.81 L430.18,156.16 L429.18,157.32 L429.31,158.85 L427.90,158.26 L426.49,158.85 L426.62,157.32 L425.62,156.16 L427.11,155.81Z M435.08,155.99 L435.87,157.29 L437.36,157.64 L436.36,158.80 L436.49,160.33 L435.08,159.74 L433.67,160.33 L433.80,158.80 L432.80,157.64 L434.29,157.29Z M442.26,155.18 L443.05,156.49 L444.54,156.84 L443.54,158.00 L443.67,159.52 L442.26,158.93 L440.85,159.52 L440.98,158.00 L439.98,156.84 L441.47,156.49Z M449.44,154.24 L450.23,155.55 L451.72,155.90 L450.72,157.05 L450.85,158.58 L449.44,157.99 L448.03,158.58 L448.16,157.05 L447.16,155.90 L448.65,155.55Z M456.62,155.85 L457.41,157.16 L458.90,157.51 L457.90,158.67 L458.03,160.19 L456.62,159.60 L455.21,160.19 L455.34,158.67 L454.34,157.51 L455.83,157.16Z M463.80,155.04 L464.59,156.35 L466.08,156.70 L465.08,157.86 L465.21,159.39 L463.80,158.79 L462.39,159.39 L462.52,157.86 L461.52,156.70 L463.01,156.35Z M470.98,154.64 L471.77,155.95 L473.26,156.30 L472.26,157.46 L472.39,158.98 L470.98,158.39 L469.57,158.98 L469.70,157.46 L468.70,156.30 L470.19,155.95Z M478.16,151.28 L478.95,152.59 L480.44,152.94 L479.44,154.10 L479.57,155.62 L478.16,155.03 L476.75,155.62 L476.88,154.10 L475.88,152.94 L477.37,152.59Z M485.34,155.85 L486.13,157.16 L487.62,157.51 L486.62,158.67 L486.75,160.19 L485.34,159.60 L483.93,160.19 L484.06,158.67 L483.06,157.51 L484.55,157.16Z M492.52,156.66 L493.31,157.97 L494.80,158.32 L493.80,159.48 L493.93,161.00 L492.52,160.41 L491.11,161.00 L491.24,159.48 L490.24,158.32 L491.73,157.97Z M499.70,156.66 L500.49,157.97 L501.98,158.32 L500.98,159.48 L501.11,161.00 L499.70,160.41 L498.29,161.00 L498.42,159.48 L497.42,158.32 L498.91,157.97Z M506.88,155.85 L507.67,157.16 L509.16,157.51 L508.16,158.67 L508.29,160.19 L506.88,159.60 L505.47,160.19 L505.60,158.67 L504.60,157.51 L506.09,157.16Z M514.06,156.66 L514.85,157.97 L516.34,158.32 L515.34,159.48 L515.47,161.00 L514.06,160.41 L512.65,161.00 L512.78,159.48 L511.78,158.32 L513.27,157.97Z M521.24,155.85 L522.03,157.16 L523.52,157.51 L522.52,158.67 L522.65,160.19 L521.24,159.60 L519.83,160.19 L519.96,158.67 L518.96,157.51 L520.45,157.16Z M528.42,156.66 L529.21,157.97 L530.70,158.32 L529.70,159.48 L529.83,161.00 L528.42,160.41 L527.01,161.00 L527.14,159.48 L526.14,158.32 L527.63,157.97Z" fill="#ff8214"/>
<polyline points="320.20,98.67 327.38,109.97 334.56,130.68 341.74,135.25 348.92,143.59 356.10,146.95 363.28,149.24 370.46,152.60 377.64,153.95 384.82,154.75 392.00,155.97 399.18,156.23 406.36,155.56 413.54,148.57 420.72,144.94 427.90,156.50 435.08,154.75 442.26,156.91 449.44,156.50 456.62,156.23 463.80,155.43 470.98,157.04 478.16,155.43 485.34,157.04 492.52,156.50 499.70,153.68 506.88,157.85 514.06,150.45 521.24,157.85 528.42,156.50" fill="none" stroke="#e2101a" stroke-width="1.45" stroke-linejoin="round" stroke-linecap="round"/>
<path d="M320.20,96.27 L320.99,97.58 L322.48,97.93 L321.48,99.09 L321.61,100.61 L320.20,100.02 L318.79,100.61 L318.92,99.09 L317.92,97.93 L319.41,97.58Z M327.38,107.57 L328.17,108.87 L329.66,109.22 L328.66,110.38 L328.79,111.91 L327.38,111.32 L325.97,111.91 L326.10,110.38 L325.10,109.22 L326.59,108.87Z M334.56,128.28 L335.35,129.59 L336.84,129.94 L335.84,131.10 L335.97,132.62 L334.56,132.03 L333.15,132.62 L333.28,131.10 L332.28,129.94 L333.77,129.59Z M341.74,132.85 L342.53,134.16 L344.02,134.51 L343.02,135.67 L343.15,137.19 L341.74,136.60 L340.33,137.19 L340.46,135.67 L339.46,134.51 L340.95,134.16Z M348.92,141.19 L349.71,142.50 L351.20,142.85 L350.20,144.01 L350.33,145.53 L348.92,144.94 L347.51,145.53 L347.64,144.01 L346.64,142.85 L348.13,142.50Z M356.10,144.55 L356.89,145.86 L358.38,146.21 L357.38,147.37 L357.51,148.90 L356.10,148.30 L354.69,148.90 L354.82,147.37 L353.82,146.21 L355.31,145.86Z M363.28,146.84 L364.07,148.15 L365.56,148.50 L364.56,149.66 L364.69,151.18 L363.28,150.59 L361.87,151.18 L362.00,149.66 L361.00,148.50 L362.49,148.15Z M370.46,150.20 L371.25,151.51 L372.74,151.86 L371.74,153.02 L371.87,154.54 L370.46,153.95 L369.05,154.54 L369.18,153.02 L368.18,151.86 L369.67,151.51Z M377.64,151.55 L378.43,152.86 L379.92,153.21 L378.92,154.36 L379.05,155.89 L377.64,155.30 L376.23,155.89 L376.36,154.36 L375.36,153.21 L376.85,152.86Z M384.82,152.35 L385.61,153.66 L387.10,154.01 L386.10,155.17 L386.23,156.70 L384.82,156.10 L383.41,156.70 L383.54,155.17 L382.54,154.01 L384.03,153.66Z M392.00,153.56 L392.79,154.87 L394.28,155.22 L393.28,156.38 L393.41,157.91 L392.00,157.31 L390.59,157.91 L390.72,156.38 L389.72,155.22 L391.21,154.87Z M399.18,153.83 L399.97,155.14 L401.46,155.49 L400.46,156.65 L400.59,158.18 L399.18,157.58 L397.77,158.18 L397.90,156.65 L396.90,155.49 L398.39,155.14Z M406.36,153.16 L407.15,154.47 L408.64,154.82 L407.64,155.98 L407.77,157.50 L406.36,156.91 L404.95,157.50 L405.08,155.98 L404.08,154.82 L405.57,154.47Z M413.54,146.17 L414.33,147.48 L415.82,147.83 L414.82,148.98 L414.95,150.51 L413.54,149.92 L412.13,150.51 L412.26,148.98 L411.26,147.83 L412.75,147.48Z M420.72,142.54 L421.51,143.84 L423.00,144.19 L422.00,145.35 L422.13,146.88 L420.72,146.29 L419.31,146.88 L419.44,145.35 L418.44,144.19 L419.93,143.84Z M427.90,154.10 L428.69,155.41 L430.18,155.76 L429.18,156.92 L429.31,158.44 L427.90,157.85 L426.49,158.44 L426.62,156.92 L425.62,155.76 L427.11,155.41Z M435.08,152.35 L435.87,153.66 L437.36,154.01 L436.36,155.17 L436.49,156.70 L435.08,156.10 L433.67,156.70 L433.80,155.17 L432.80,154.01 L434.29,153.66Z M442.26,154.51 L443.05,155.81 L444.54,156.16 L443.54,157.32 L443.67,158.85 L442.26,158.26 L440.85,158.85 L440.98,157.32 L439.98,156.16 L441.47,155.81Z M449.44,154.10 L450.23,155.41 L451.72,155.76 L450.72,156.92 L450.85,158.44 L449.44,157.85 L448.03,158.44 L448.16,156.92 L447.16,155.76 L448.65,155.41Z M456.62,153.83 L457.41,155.14 L458.90,155.49 L457.90,156.65 L458.03,158.18 L456.62,157.58 L455.21,158.18 L455.34,156.65 L454.34,155.49 L455.83,155.14Z M463.80,153.03 L464.59,154.33 L466.08,154.69 L465.08,155.84 L465.21,157.37 L463.80,156.78 L462.39,157.37 L462.52,155.84 L461.52,154.69 L463.01,154.33Z M470.98,154.64 L471.77,155.95 L473.26,156.30 L472.26,157.46 L472.39,158.98 L470.98,158.39 L469.57,158.98 L469.70,157.46 L468.70,156.30 L470.19,155.95Z M478.16,153.03 L478.95,154.33 L480.44,154.69 L479.44,155.84 L479.57,157.37 L478.16,156.78 L476.75,157.37 L476.88,155.84 L475.88,154.69 L477.37,154.33Z M485.34,154.64 L486.13,155.95 L487.62,156.30 L486.62,157.46 L486.75,158.98 L485.34,158.39 L483.93,158.98 L484.06,157.46 L483.06,156.30 L484.55,155.95Z M492.52,154.10 L493.31,155.41 L494.80,155.76 L493.80,156.92 L493.93,158.44 L492.52,157.85 L491.11,158.44 L491.24,156.92 L490.24,155.76 L491.73,155.41Z M499.70,151.28 L500.49,152.59 L501.98,152.94 L500.98,154.10 L501.11,155.62 L499.70,155.03 L498.29,155.62 L498.42,154.10 L497.42,152.94 L498.91,152.59Z M506.88,155.45 L507.67,156.76 L509.16,157.11 L508.16,158.27 L508.29,159.79 L506.88,159.20 L505.47,159.79 L505.60,158.27 L504.60,157.11 L506.09,156.76Z M514.06,148.05 L514.85,149.36 L516.34,149.71 L515.34,150.87 L515.47,152.39 L514.06,151.80 L512.65,152.39 L512.78,150.87 L511.78,149.71 L513.27,149.36Z M521.24,155.45 L522.03,156.76 L523.52,157.11 L522.52,158.27 L522.65,159.79 L521.24,159.20 L519.83,159.79 L519.96,158.27 L518.96,157.11 L520.45,156.76Z M528.42,154.10 L529.21,155.41 L530.70,155.76 L529.70,156.92 L529.83,158.44 L528.42,157.85 L527.01,158.44 L527.14,156.92 L526.14,155.76 L527.63,155.41Z" fill="#e2101a"/>
</g>
<rect x="310.0" y="18.9" width="229.5" height="146.9" fill="none" stroke="#4f4f4f" stroke-width="1.1"/>
<line x1="320.20" y1="165.8" x2="320.20" y2="168.70000000000002" stroke="#4f4f4f" stroke-width="1.0"/>
<text x="320.20" y="176.20" font-size="8.3" text-anchor="middle" fill="#262626" textLength="3.96" lengthAdjust="spacingAndGlyphs">0</text>
<line x1="356.10" y1="165.8" x2="356.10" y2="168.70000000000002" stroke="#4f4f4f" stroke-width="1.0"/>
<text x="356.10" y="176.20" font-size="8.3" text-anchor="middle" fill="#262626" textLength="3.96" lengthAdjust="spacingAndGlyphs">5</text>
<line x1="392.00" y1="165.8" x2="392.00" y2="168.70000000000002" stroke="#4f4f4f" stroke-width="1.0"/>
<text x="392.00" y="176.20" font-size="8.3" text-anchor="middle" fill="#262626" textLength="7.92" lengthAdjust="spacingAndGlyphs">10</text>
<line x1="427.90" y1="165.8" x2="427.90" y2="168.70000000000002" stroke="#4f4f4f" stroke-width="1.0"/>
<text x="427.90" y="176.20" font-size="8.3" text-anchor="middle" fill="#262626" textLength="7.92" lengthAdjust="spacingAndGlyphs">15</text>
<line x1="463.80" y1="165.8" x2="463.80" y2="168.70000000000002" stroke="#4f4f4f" stroke-width="1.0"/>
<text x="463.80" y="176.20" font-size="8.3" text-anchor="middle" fill="#262626" textLength="7.92" lengthAdjust="spacingAndGlyphs">20</text>
<line x1="499.70" y1="165.8" x2="499.70" y2="168.70000000000002" stroke="#4f4f4f" stroke-width="1.0"/>
<text x="499.70" y="176.20" font-size="8.3" text-anchor="middle" fill="#262626" textLength="7.92" lengthAdjust="spacingAndGlyphs">25</text>
<line x1="535.60" y1="165.8" x2="535.60" y2="168.70000000000002" stroke="#4f4f4f" stroke-width="1.0"/>
<text x="535.60" y="176.20" font-size="8.3" text-anchor="middle" fill="#262626" textLength="7.92" lengthAdjust="spacingAndGlyphs">30</text>
<line x1="307.1" y1="160.00" x2="310.0" y2="160.00" stroke="#4f4f4f" stroke-width="1.0"/>
<text x="303.8" y="162.75" font-size="8.3" text-anchor="end" fill="#262626" textLength="9.90" lengthAdjust="spacingAndGlyphs">0.0</text>
<line x1="307.1" y1="133.10" x2="310.0" y2="133.10" stroke="#4f4f4f" stroke-width="1.0"/>
<text x="303.8" y="135.85" font-size="8.3" text-anchor="end" fill="#262626" textLength="9.90" lengthAdjust="spacingAndGlyphs">0.2</text>
<line x1="307.1" y1="106.20" x2="310.0" y2="106.20" stroke="#4f4f4f" stroke-width="1.0"/>
<text x="303.8" y="108.95" font-size="8.3" text-anchor="end" fill="#262626" textLength="9.90" lengthAdjust="spacingAndGlyphs">0.4</text>
<line x1="307.1" y1="79.30" x2="310.0" y2="79.30" stroke="#4f4f4f" stroke-width="1.0"/>
<text x="303.8" y="82.05" font-size="8.3" text-anchor="end" fill="#262626" textLength="9.90" lengthAdjust="spacingAndGlyphs">0.6</text>
<line x1="307.1" y1="52.40" x2="310.0" y2="52.40" stroke="#4f4f4f" stroke-width="1.0"/>
<text x="303.8" y="55.15" font-size="8.3" text-anchor="end" fill="#262626" textLength="9.90" lengthAdjust="spacingAndGlyphs">0.8</text>
<line x1="307.1" y1="25.50" x2="310.0" y2="25.50" stroke="#4f4f4f" stroke-width="1.0"/>
<text x="303.8" y="28.25" font-size="8.3" text-anchor="end" fill="#262626" textLength="9.90" lengthAdjust="spacingAndGlyphs">1.0</text>
<text x="424.2" y="15.3" font-size="9.0" text-anchor="middle" fill="#262626" textLength="94.2" lengthAdjust="spacingAndGlyphs">Model Accuracy &amp; Loss</text>
<text x="424.4" y="185.6" font-size="7.6" text-anchor="middle" fill="#262626" textLength="20.2" lengthAdjust="spacingAndGlyphs">Epoch</text>
<text transform="translate(289.4,92.6) rotate(-90)" x="0" y="0" font-size="7.6" text-anchor="middle" fill="#262626" textLength="55" lengthAdjust="spacingAndGlyphs">Accuracy &amp; Loss</text>
<rect x="495.4" y="81.4" width="40.60000000000002" height="22.5" rx="1.6" fill="#fff" fill-opacity="0.85" stroke="#d9d9d9" stroke-width="0.8"/>
<line x1="497.59999999999997" y1="87.00" x2="512.1999999999999" y2="87.00" stroke="#1283d2" stroke-width="1.6"/>
<path d="M505.60,84.60 L506.39,85.91 L507.88,86.26 L506.88,87.42 L507.01,88.94 L505.60,88.35 L504.19,88.94 L504.32,87.42 L503.32,86.26 L504.81,85.91Z" fill="#1283d2"/>
<text x="517.1999999999999" y="89.60" font-size="7.6" fill="#262626" textLength="14.9" lengthAdjust="spacingAndGlyphs">train</text>
<line x1="497.59999999999997" y1="97.10" x2="512.1999999999999" y2="97.10" stroke="#e2101a" stroke-width="1.6"/>
<path d="M505.60,94.70 L506.39,96.01 L507.88,96.36 L506.88,97.52 L507.01,99.04 L505.60,98.45 L504.19,99.04 L504.32,97.52 L503.32,96.36 L504.81,96.01Z" fill="#e2101a"/>
<text x="517.1999999999999" y="99.70" font-size="7.6" fill="#262626" textLength="12.3" lengthAdjust="spacingAndGlyphs">test</text>
<text x="454.2" y="46.0" font-size="10.2" fill="#111" style="stroke:#111;stroke-width:0.22px" textLength="64.3" lengthAdjust="spacingAndGlyphs">Casting Data</text>
<clipPath id="c2"><rect x="28.5" y="200.5" width="235.5" height="152.89999999999998"/></clipPath>
<g clip-path="url(#c2)">
<polyline points="41.80,322.91 49.01,317.71 56.21,317.21 63.42,316.40 70.63,315.90 77.83,315.33 85.04,315.16 92.25,315.00 99.46,314.89 106.66,314.66 113.87,314.59 121.08,314.59 128.28,314.59 135.49,314.49 142.70,313.99 149.91,313.99 157.11,313.99 164.32,313.99 171.53,313.82 178.73,313.82 185.94,313.82 193.15,313.82 200.35,313.82 207.56,313.82 214.77,313.82 221.97,313.82 229.18,313.82 236.39,313.82 243.60,313.82 250.80,313.82" fill="none" stroke="#1283d2" stroke-width="1.45" stroke-linejoin="round" stroke-linecap="round"/>
<path d="M41.80,320.51 L42.59,321.82 L44.08,322.17 L43.08,323.33 L43.21,324.85 L41.80,324.26 L40.39,324.85 L40.52,323.33 L39.52,322.17 L41.01,321.82Z M49.01,315.31 L49.80,316.62 L51.29,316.97 L50.29,318.13 L50.42,319.65 L49.01,319.06 L47.60,319.65 L47.72,318.13 L46.72,316.97 L48.21,316.62Z M56.21,314.81 L57.01,316.12 L58.50,316.47 L57.50,317.63 L57.62,319.15 L56.21,318.56 L54.80,319.15 L54.93,317.63 L53.93,316.47 L55.42,316.12Z M63.42,314.00 L64.21,315.31 L65.70,315.66 L64.70,316.82 L64.83,318.35 L63.42,317.75 L62.01,318.35 L62.14,316.82 L61.14,315.66 L62.63,315.31Z M70.63,313.50 L71.42,314.81 L72.91,315.16 L71.91,316.32 L72.04,317.84 L70.63,317.25 L69.22,317.84 L69.34,316.32 L68.35,315.16 L69.83,314.81Z M77.83,312.93 L78.63,314.24 L80.12,314.59 L79.12,315.75 L79.25,317.27 L77.83,316.68 L76.42,317.27 L76.55,315.75 L75.55,314.59 L77.04,314.24Z M85.04,312.76 L85.84,314.07 L87.32,314.42 L86.33,315.58 L86.45,317.10 L85.04,316.51 L83.63,317.10 L83.76,315.58 L82.76,314.42 L84.25,314.07Z M92.25,312.60 L93.04,313.90 L94.53,314.25 L93.53,315.41 L93.66,316.94 L92.25,316.35 L90.84,316.94 L90.97,315.41 L89.97,314.25 L91.46,313.90Z M99.46,312.49 L100.25,313.80 L101.74,314.15 L100.74,315.31 L100.87,316.84 L99.46,316.24 L98.05,316.84 L98.17,315.31 L97.17,314.15 L98.66,313.80Z M106.66,312.26 L107.46,313.57 L108.95,313.92 L107.95,315.08 L108.07,316.60 L106.66,316.01 L105.25,316.60 L105.38,315.08 L104.38,313.92 L105.87,313.57Z M113.87,312.19 L114.66,313.50 L116.15,313.85 L115.15,315.01 L115.28,316.53 L113.87,315.94 L112.46,316.53 L112.59,315.01 L111.59,313.85 L113.08,313.50Z M121.08,312.19 L121.87,313.50 L123.36,313.85 L122.36,315.01 L122.49,316.53 L121.08,315.94 L119.67,316.53 L119.79,315.01 L118.79,313.85 L120.28,313.50Z M128.28,312.19 L129.08,313.50 L130.57,313.85 L129.57,315.01 L129.69,316.53 L128.28,315.94 L126.87,316.53 L127.00,315.01 L126.00,313.85 L127.49,313.50Z M135.49,312.09 L136.28,313.40 L137.77,313.75 L136.77,314.91 L136.90,316.43 L135.49,315.84 L134.08,316.43 L134.21,314.91 L133.21,313.75 L134.70,313.40Z M142.70,311.59 L143.49,312.90 L144.98,313.25 L143.98,314.41 L144.11,315.93 L142.70,315.34 L141.29,315.93 L141.41,314.41 L140.42,313.25 L141.90,312.90Z M149.91,311.59 L150.70,312.90 L152.19,313.25 L151.19,314.41 L151.32,315.93 L149.91,315.34 L148.49,315.93 L148.62,314.41 L147.62,313.25 L149.11,312.90Z M157.11,311.59 L157.91,312.90 L159.39,313.25 L158.40,314.41 L158.52,315.93 L157.11,315.34 L155.70,315.93 L155.83,314.41 L154.83,313.25 L156.32,312.90Z M164.32,311.59 L165.11,312.90 L166.60,313.25 L165.60,314.41 L165.73,315.93 L164.32,315.34 L162.91,315.93 L163.04,314.41 L162.04,313.25 L163.53,312.90Z M171.53,311.42 L172.32,312.73 L173.81,313.08 L172.81,314.24 L172.94,315.76 L171.53,315.17 L170.12,315.76 L170.24,314.24 L169.24,313.08 L170.73,312.73Z M178.73,311.42 L179.53,312.73 L181.02,313.08 L180.02,314.24 L180.14,315.76 L178.73,315.17 L177.32,315.76 L177.45,314.24 L176.45,313.08 L177.94,312.73Z M185.94,311.42 L186.73,312.73 L188.22,313.08 L187.22,314.24 L187.35,315.76 L185.94,315.17 L184.53,315.76 L184.66,314.24 L183.66,313.08 L185.15,312.73Z M193.15,311.42 L193.94,312.73 L195.43,313.08 L194.43,314.24 L194.56,315.76 L193.15,315.17 L191.74,315.76 L191.86,314.24 L190.86,313.08 L192.35,312.73Z M200.35,311.42 L201.15,312.73 L202.64,313.08 L201.64,314.24 L201.76,315.76 L200.35,315.17 L198.94,315.76 L199.07,314.24 L198.07,313.08 L199.56,312.73Z M207.56,311.42 L208.35,312.73 L209.84,313.08 L208.84,314.24 L208.97,315.76 L207.56,315.17 L206.15,315.76 L206.28,314.24 L205.28,313.08 L206.77,312.73Z M214.77,311.42 L215.56,312.73 L217.05,313.08 L216.05,314.24 L216.18,315.76 L214.77,315.17 L213.36,315.76 L213.48,314.24 L212.49,313.08 L213.97,312.73Z M221.97,311.42 L222.77,312.73 L224.26,313.08 L223.26,314.24 L223.39,315.76 L221.97,315.17 L220.56,315.76 L220.69,314.24 L219.69,313.08 L221.18,312.73Z M229.18,311.42 L229.98,312.73 L231.46,313.08 L230.47,314.24 L230.59,315.76 L229.18,315.17 L227.77,315.76 L227.90,314.24 L226.90,313.08 L228.39,312.73Z M236.39,311.42 L237.18,312.73 L238.67,313.08 L237.67,314.24 L237.80,315.76 L236.39,315.17 L234.98,315.76 L235.11,314.24 L234.11,313.08 L235.60,312.73Z M243.60,311.42 L244.39,312.73 L245.88,313.08 L244.88,314.24 L245.01,315.76 L243.60,315.17 L242.19,315.76 L242.31,314.24 L241.31,313.08 L242.80,312.73Z M250.80,311.42 L251.60,312.73 L253.09,313.08 L252.09,314.24 L252.21,315.76 L250.80,315.17 L249.39,315.76 L249.52,314.24 L248.52,313.08 L250.01,312.73Z" fill="#1283d2"/>
<polyline points="41.80,318.32 49.01,331.90 56.21,333.62 63.42,336.00 70.63,337.31 77.83,338.98 85.04,338.98 92.25,338.98 99.46,339.79 106.66,341.20 113.87,341.16 121.08,341.60 128.28,341.60 135.49,341.60 142.70,342.51 149.91,342.51 157.11,342.51 164.32,342.51 171.53,343.01 178.73,343.01 185.94,343.01 193.15,343.61 200.35,343.11 207.56,343.85 214.77,343.34 221.97,343.34 229.18,343.68 236.39,343.34 243.60,343.34 250.80,343.34" fill="none" stroke="#ff8214" stroke-width="1.45" stroke-linejoin="round" stroke-linecap="round"/>
<path d="M41.80,315.92 L42.59,317.22 L44.08,317.58 L43.08,318.73 L43.21,320.26 L41.80,319.67 L40.39,320.26 L40.52,318.73 L39.52,317.58 L41.01,317.22Z M49.01,329.50 L49.80,330.81 L51.29,331.16 L50.29,332.32 L50.42,333.85 L49.01,333.25 L47.60,333.85 L47.72,332.32 L46.72,331.16 L48.21,330.81Z M56.21,331.22 L57.01,332.52 L58.50,332.87 L57.50,334.03 L57.62,335.56 L56.21,334.97 L54.80,335.56 L54.93,334.03 L53.93,332.87 L55.42,332.52Z M63.42,333.60 L64.21,334.91 L65.70,335.26 L64.70,336.41 L64.83,337.94 L63.42,337.35 L62.01,337.94 L62.14,336.41 L61.14,335.26 L62.63,334.91Z M70.63,334.91 L71.42,336.21 L72.91,336.56 L71.91,337.72 L72.04,339.25 L70.63,338.66 L69.22,339.25 L69.34,337.72 L68.35,336.56 L69.83,336.21Z M77.83,336.58 L78.63,337.89 L80.12,338.24 L79.12,339.40 L79.25,340.93 L77.83,340.33 L76.42,340.93 L76.55,339.40 L75.55,338.24 L77.04,337.89Z M85.04,336.58 L85.84,337.89 L87.32,338.24 L86.33,339.40 L86.45,340.93 L85.04,340.33 L83.63,340.93 L83.76,339.40 L82.76,338.24 L84.25,337.89Z M92.25,336.58 L93.04,337.89 L94.53,338.24 L93.53,339.40 L93.66,340.93 L92.25,340.33 L90.84,340.93 L90.97,339.40 L89.97,338.24 L91.46,337.89Z M99.46,337.39 L100.25,338.70 L101.74,339.05 L100.74,340.21 L100.87,341.73 L99.46,341.14 L98.05,341.73 L98.17,340.21 L97.17,339.05 L98.66,338.70Z M106.66,338.80 L107.46,340.11 L108.95,340.46 L107.95,341.61 L108.07,343.14 L106.66,342.55 L105.25,343.14 L105.38,341.61 L104.38,340.46 L105.87,340.11Z M113.87,338.76 L114.66,340.07 L116.15,340.42 L115.15,341.58 L115.28,343.11 L113.87,342.51 L112.46,343.11 L112.59,341.58 L111.59,340.42 L113.08,340.07Z M121.08,339.20 L121.87,340.51 L123.36,340.86 L122.36,342.02 L122.49,343.54 L121.08,342.95 L119.67,343.54 L119.79,342.02 L118.79,340.86 L120.28,340.51Z M128.28,339.20 L129.08,340.51 L130.57,340.86 L129.57,342.02 L129.69,343.54 L128.28,342.95 L126.87,343.54 L127.00,342.02 L126.00,340.86 L127.49,340.51Z M135.49,339.20 L136.28,340.51 L137.77,340.86 L136.77,342.02 L136.90,343.54 L135.49,342.95 L134.08,343.54 L134.21,342.02 L133.21,340.86 L134.70,340.51Z M142.70,340.11 L143.49,341.41 L144.98,341.76 L143.98,342.92 L144.11,344.45 L142.70,343.86 L141.29,344.45 L141.41,342.92 L140.42,341.76 L141.90,341.41Z M149.91,340.11 L150.70,341.41 L152.19,341.76 L151.19,342.92 L151.32,344.45 L149.91,343.86 L148.49,344.45 L148.62,342.92 L147.62,341.76 L149.11,341.41Z M157.11,340.11 L157.91,341.41 L159.39,341.76 L158.40,342.92 L158.52,344.45 L157.11,343.86 L155.70,344.45 L155.83,342.92 L154.83,341.76 L156.32,341.41Z M164.32,340.11 L165.11,341.41 L166.60,341.76 L165.60,342.92 L165.73,344.45 L164.32,343.86 L162.91,344.45 L163.04,342.92 L162.04,341.76 L163.53,341.41Z M171.53,340.61 L172.32,341.92 L173.81,342.27 L172.81,343.43 L172.94,344.95 L171.53,344.36 L170.12,344.95 L170.24,343.43 L169.24,342.27 L170.73,341.92Z M178.73,340.61 L179.53,341.92 L181.02,342.27 L180.02,343.43 L180.14,344.95 L178.73,344.36 L177.32,344.95 L177.45,343.43 L176.45,342.27 L177.94,341.92Z M185.94,340.61 L186.73,341.92 L188.22,342.27 L187.22,343.43 L187.35,344.95 L185.94,344.36 L184.53,344.95 L184.66,343.43 L183.66,342.27 L185.15,341.92Z M193.15,341.21 L193.94,342.52 L195.43,342.87 L194.43,344.03 L194.56,345.56 L193.15,344.96 L191.74,345.56 L191.86,344.03 L190.86,342.87 L192.35,342.52Z M200.35,340.71 L201.15,342.02 L202.64,342.37 L201.64,343.53 L201.76,345.05 L200.35,344.46 L198.94,345.05 L199.07,343.53 L198.07,342.37 L199.56,342.02Z M207.56,341.45 L208.35,342.76 L209.84,343.11 L208.84,344.27 L208.97,345.79 L207.56,345.20 L206.15,345.79 L206.28,344.27 L205.28,343.11 L206.77,342.76Z M214.77,340.94 L215.56,342.25 L217.05,342.60 L216.05,343.76 L216.18,345.29 L214.77,344.69 L213.36,345.29 L213.48,343.76 L212.49,342.60 L213.97,342.25Z M221.97,340.94 L222.77,342.25 L224.26,342.60 L223.26,343.76 L223.39,345.29 L221.97,344.69 L220.56,345.29 L220.69,343.76 L219.69,342.60 L221.18,342.25Z M229.18,341.28 L229.98,342.59 L231.46,342.94 L230.47,344.10 L230.59,345.62 L229.18,345.03 L227.77,345.62 L227.90,344.10 L226.90,342.94 L228.39,342.59Z M236.39,340.94 L237.18,342.25 L238.67,342.60 L237.67,343.76 L237.80,345.29 L236.39,344.69 L234.98,345.29 L235.11,343.76 L234.11,342.60 L235.60,342.25Z M243.60,340.94 L244.39,342.25 L245.88,342.60 L244.88,343.76 L245.01,345.29 L243.60,344.69 L242.19,345.29 L242.31,343.76 L241.31,342.60 L242.80,342.25Z M250.80,340.94 L251.60,342.25 L253.09,342.60 L252.09,343.76 L252.21,345.29 L250.80,344.69 L249.39,345.29 L249.52,343.76 L248.52,342.60 L250.01,342.25Z" fill="#ff8214"/>
<polyline points="41.80,340.90 49.01,340.90 56.21,340.90 63.42,340.90 70.63,340.90 77.83,340.90 85.04,340.90 92.25,339.29 99.46,340.90 106.66,337.61 113.87,337.91 121.08,340.80 128.28,340.80 135.49,337.61 142.70,339.18 149.91,337.61 157.11,337.61 164.32,340.80 171.53,333.62 178.73,331.20 185.94,328.35 193.15,321.13 200.35,317.71 207.56,316.71 214.77,315.50 221.97,316.50 229.18,316.10 236.39,315.50 243.60,316.71 250.80,316.71" fill="none" stroke="#e2101a" stroke-width="1.45" stroke-linejoin="round" stroke-linecap="round"/>
<path d="M41.80,338.50 L42.59,339.80 L44.08,340.15 L43.08,341.31 L43.21,342.84 L41.80,342.25 L40.39,342.84 L40.52,341.31 L39.52,340.15 L41.01,339.80Z M49.01,338.50 L49.80,339.80 L51.29,340.15 L50.29,341.31 L50.42,342.84 L49.01,342.25 L47.60,342.84 L47.72,341.31 L46.72,340.15 L48.21,339.80Z M56.21,338.50 L57.01,339.80 L58.50,340.15 L57.50,341.31 L57.62,342.84 L56.21,342.25 L54.80,342.84 L54.93,341.31 L53.93,340.15 L55.42,339.80Z M63.42,338.50 L64.21,339.80 L65.70,340.15 L64.70,341.31 L64.83,342.84 L63.42,342.25 L62.01,342.84 L62.14,341.31 L61.14,340.15 L62.63,339.80Z M70.63,338.50 L71.42,339.80 L72.91,340.15 L71.91,341.31 L72.04,342.84 L70.63,342.25 L69.22,342.84 L69.34,341.31 L68.35,340.15 L69.83,339.80Z M77.83,338.50 L78.63,339.80 L80.12,340.15 L79.12,341.31 L79.25,342.84 L77.83,342.25 L76.42,342.84 L76.55,341.31 L75.55,340.15 L77.04,339.80Z M85.04,338.50 L85.84,339.80 L87.32,340.15 L86.33,341.31 L86.45,342.84 L85.04,342.25 L83.63,342.84 L83.76,341.31 L82.76,340.15 L84.25,339.80Z M92.25,336.89 L93.04,338.19 L94.53,338.54 L93.53,339.70 L93.66,341.23 L92.25,340.64 L90.84,341.23 L90.97,339.70 L89.97,338.54 L91.46,338.19Z M99.46,338.50 L100.25,339.80 L101.74,340.15 L100.74,341.31 L100.87,342.84 L99.46,342.25 L98.05,342.84 L98.17,341.31 L97.17,340.15 L98.66,339.80Z M106.66,335.21 L107.46,336.52 L108.95,336.87 L107.95,338.03 L108.07,339.55 L106.66,338.96 L105.25,339.55 L105.38,338.03 L104.38,336.87 L105.87,336.52Z M113.87,335.51 L114.66,336.82 L116.15,337.17 L115.15,338.33 L115.28,339.85 L113.87,339.26 L112.46,339.85 L112.59,338.33 L111.59,337.17 L113.08,336.82Z M121.08,338.40 L121.87,339.70 L123.36,340.05 L122.36,341.21 L122.49,342.74 L121.08,342.15 L119.67,342.74 L119.79,341.21 L118.79,340.05 L120.28,339.70Z M128.28,338.40 L129.08,339.70 L130.57,340.05 L129.57,341.21 L129.69,342.74 L128.28,342.15 L126.87,342.74 L127.00,341.21 L126.00,340.05 L127.49,339.70Z M135.49,335.21 L136.28,336.52 L137.77,336.87 L136.77,338.03 L136.90,339.55 L135.49,338.96 L134.08,339.55 L134.21,338.03 L133.21,336.87 L134.70,336.52Z M142.70,336.78 L143.49,338.09 L144.98,338.44 L143.98,339.60 L144.11,341.13 L142.70,340.53 L141.29,341.13 L141.41,339.60 L140.42,338.44 L141.90,338.09Z M149.91,335.21 L150.70,336.52 L152.19,336.87 L151.19,338.03 L151.32,339.55 L149.91,338.96 L148.49,339.55 L148.62,338.03 L147.62,336.87 L149.11,336.52Z M157.11,335.21 L157.91,336.52 L159.39,336.87 L158.40,338.03 L158.52,339.55 L157.11,338.96 L155.70,339.55 L155.83,338.03 L154.83,336.87 L156.32,336.52Z M164.32,338.40 L165.11,339.70 L166.60,340.05 L165.60,341.21 L165.73,342.74 L164.32,342.15 L162.91,342.74 L163.04,341.21 L162.04,340.05 L163.53,339.70Z M171.53,331.22 L172.32,332.52 L173.81,332.87 L172.81,334.03 L172.94,335.56 L171.53,334.97 L170.12,335.56 L170.24,334.03 L169.24,332.87 L170.73,332.52Z M178.73,328.80 L179.53,330.11 L181.02,330.46 L180.02,331.62 L180.14,333.14 L178.73,332.55 L177.32,333.14 L177.45,331.62 L176.45,330.46 L177.94,330.11Z M185.94,325.95 L186.73,327.26 L188.22,327.61 L187.22,328.77 L187.35,330.29 L185.94,329.70 L184.53,330.29 L184.66,328.77 L183.66,327.61 L185.15,327.26Z M193.15,318.73 L193.94,320.04 L195.43,320.39 L194.43,321.55 L194.56,323.08 L193.15,322.48 L191.74,323.08 L191.86,321.55 L190.86,320.39 L192.35,320.04Z M200.35,315.31 L201.15,316.62 L202.64,316.97 L201.64,318.13 L201.76,319.65 L200.35,319.06 L198.94,319.65 L199.07,318.13 L198.07,316.97 L199.56,316.62Z M207.56,314.31 L208.35,315.61 L209.84,315.96 L208.84,317.12 L208.97,318.65 L207.56,318.06 L206.15,318.65 L206.28,317.12 L205.28,315.96 L206.77,315.61Z M214.77,313.10 L215.56,314.41 L217.05,314.76 L216.05,315.92 L216.18,317.44 L214.77,316.85 L213.36,317.44 L213.48,315.92 L212.49,314.76 L213.97,314.41Z M221.97,314.11 L222.77,315.41 L224.26,315.76 L223.26,316.92 L223.39,318.45 L221.97,317.86 L220.56,318.45 L220.69,316.92 L219.69,315.76 L221.18,315.41Z M229.18,313.70 L229.98,315.01 L231.46,315.36 L230.47,316.52 L230.59,318.04 L229.18,317.45 L227.77,318.04 L227.90,316.52 L226.90,315.36 L228.39,315.01Z M236.39,313.10 L237.18,314.41 L238.67,314.76 L237.67,315.92 L237.80,317.44 L236.39,316.85 L234.98,317.44 L235.11,315.92 L234.11,314.76 L235.60,314.41Z M243.60,314.31 L244.39,315.61 L245.88,315.96 L244.88,317.12 L245.01,318.65 L243.60,318.06 L242.19,318.65 L242.31,317.12 L241.31,315.96 L242.80,315.61Z M250.80,314.31 L251.60,315.61 L253.09,315.96 L252.09,317.12 L252.21,318.65 L250.80,318.06 L249.39,318.65 L249.52,317.12 L248.52,315.96 L250.01,315.61Z" fill="#e2101a"/>
<polyline points="41.80,285.30 49.01,284.60 56.21,284.10 63.42,282.22 70.63,280.00 77.83,276.92 85.04,272.08 92.25,266.62 99.46,260.61 106.66,252.89 113.87,243.80 121.08,234.41 128.28,224.31 135.49,218.10 142.70,210.29 149.91,211.19 157.11,217.40 164.32,234.21 171.53,252.09 178.73,270.91 185.94,299.73 193.15,326.50 200.35,335.09 207.56,338.51 214.77,340.69 221.97,339.08 229.18,339.69 236.39,340.09 243.60,338.11 250.80,338.11" fill="none" stroke="#e2101a" stroke-width="1.45" stroke-linejoin="round" stroke-linecap="round"/>
<path d="M41.80,282.90 L42.59,284.21 L44.08,284.56 L43.08,285.72 L43.21,287.25 L41.80,286.65 L40.39,287.25 L40.52,285.72 L39.52,284.56 L41.01,284.21Z M49.01,282.20 L49.80,283.51 L51.29,283.86 L50.29,285.02 L50.42,286.54 L49.01,285.95 L47.60,286.54 L47.72,285.02 L46.72,283.86 L48.21,283.51Z M56.21,281.70 L57.01,283.00 L58.50,283.35 L57.50,284.51 L57.62,286.04 L56.21,285.45 L54.80,286.04 L54.93,284.51 L53.93,283.35 L55.42,283.00Z M63.42,279.82 L64.21,281.12 L65.70,281.48 L64.70,282.63 L64.83,284.16 L63.42,283.57 L62.01,284.16 L62.14,282.63 L61.14,281.48 L62.63,281.12Z M70.63,277.60 L71.42,278.91 L72.91,279.26 L71.91,280.42 L72.04,281.94 L70.63,281.35 L69.22,281.94 L69.34,280.42 L68.35,279.26 L69.83,278.91Z M77.83,274.52 L78.63,275.82 L80.12,276.17 L79.12,277.33 L79.25,278.86 L77.83,278.27 L76.42,278.86 L76.55,277.33 L75.55,276.17 L77.04,275.82Z M85.04,269.68 L85.84,270.99 L87.32,271.34 L86.33,272.50 L86.45,274.03 L85.04,273.43 L83.63,274.03 L83.76,272.50 L82.76,271.34 L84.25,270.99Z M92.25,264.22 L93.04,265.52 L94.53,265.87 L93.53,267.03 L93.66,268.56 L92.25,267.97 L90.84,268.56 L90.97,267.03 L89.97,265.87 L91.46,265.52Z M99.46,258.21 L100.25,259.52 L101.74,259.87 L100.74,261.03 L100.87,262.55 L99.46,261.96 L98.05,262.55 L98.17,261.03 L97.17,259.87 L98.66,259.52Z M106.66,250.49 L107.46,251.80 L108.95,252.15 L107.95,253.31 L108.07,254.84 L106.66,254.24 L105.25,254.84 L105.38,253.31 L104.38,252.15 L105.87,251.80Z M113.87,241.40 L114.66,242.71 L116.15,243.06 L115.15,244.22 L115.28,245.74 L113.87,245.15 L112.46,245.74 L112.59,244.22 L111.59,243.06 L113.08,242.71Z M121.08,232.01 L121.87,233.32 L123.36,233.67 L122.36,234.83 L122.49,236.35 L121.08,235.76 L119.67,236.35 L119.79,234.83 L118.79,233.67 L120.28,233.32Z M128.28,221.91 L129.08,223.22 L130.57,223.57 L129.57,224.73 L129.69,226.25 L128.28,225.66 L126.87,226.25 L127.00,224.73 L126.00,223.57 L127.49,223.22Z M135.49,215.70 L136.28,217.01 L137.77,217.36 L136.77,218.52 L136.90,220.04 L135.49,219.45 L134.08,220.04 L134.21,218.52 L133.21,217.36 L134.70,217.01Z M142.70,207.89 L143.49,209.19 L144.98,209.54 L143.98,210.70 L144.11,212.23 L142.70,211.64 L141.29,212.23 L141.41,210.70 L140.42,209.54 L141.90,209.19Z M149.91,208.79 L150.70,210.10 L152.19,210.45 L151.19,211.61 L151.32,213.13 L149.91,212.54 L148.49,213.13 L148.62,211.61 L147.62,210.45 L149.11,210.10Z M157.11,215.00 L157.91,216.31 L159.39,216.66 L158.40,217.82 L158.52,219.34 L157.11,218.75 L155.70,219.34 L155.83,217.82 L154.83,216.66 L156.32,216.31Z M164.32,231.81 L165.11,233.11 L166.60,233.47 L165.60,234.62 L165.73,236.15 L164.32,235.56 L162.91,236.15 L163.04,234.62 L162.04,233.47 L163.53,233.11Z M171.53,249.69 L172.32,251.00 L173.81,251.35 L172.81,252.51 L172.94,254.03 L171.53,253.44 L170.12,254.03 L170.24,252.51 L169.24,251.35 L170.73,251.00Z M178.73,268.51 L179.53,269.82 L181.02,270.17 L180.02,271.33 L180.14,272.85 L178.73,272.26 L177.32,272.85 L177.45,271.33 L176.45,270.17 L177.94,269.82Z M185.94,297.33 L186.73,298.64 L188.22,298.99 L187.22,300.15 L187.35,301.67 L185.94,301.08 L184.53,301.67 L184.66,300.15 L183.66,298.99 L185.15,298.64Z M193.15,324.10 L193.94,325.41 L195.43,325.76 L194.43,326.92 L194.56,328.44 L193.15,327.85 L191.74,328.44 L191.86,326.92 L190.86,325.76 L192.35,325.41Z M200.35,332.69 L201.15,334.00 L202.64,334.35 L201.64,335.51 L201.76,337.03 L200.35,336.44 L198.94,337.03 L199.07,335.51 L198.07,334.35 L199.56,334.00Z M207.56,336.11 L208.35,337.42 L209.84,337.77 L208.84,338.93 L208.97,340.46 L207.56,339.86 L206.15,340.46 L206.28,338.93 L205.28,337.77 L206.77,337.42Z M214.77,338.29 L215.56,339.60 L217.05,339.95 L216.05,341.11 L216.18,342.64 L214.77,342.04 L213.36,342.64 L213.48,341.11 L212.49,339.95 L213.97,339.60Z M221.97,336.68 L222.77,337.99 L224.26,338.34 L223.26,339.50 L223.39,341.03 L221.97,340.43 L220.56,341.03 L220.69,339.50 L219.69,338.34 L221.18,337.99Z M229.18,337.29 L229.98,338.60 L231.46,338.95 L230.47,340.11 L230.59,341.63 L229.18,341.04 L227.77,341.63 L227.90,340.11 L226.90,338.95 L228.39,338.60Z M236.39,337.69 L237.18,339.00 L238.67,339.35 L237.67,340.51 L237.80,342.03 L236.39,341.44 L234.98,342.03 L235.11,340.51 L234.11,339.35 L235.60,339.00Z M243.60,335.71 L244.39,337.02 L245.88,337.37 L244.88,338.53 L245.01,340.05 L243.60,339.46 L242.19,340.05 L242.31,338.53 L241.31,337.37 L242.80,337.02Z M250.80,335.71 L251.60,337.02 L253.09,337.37 L252.09,338.53 L252.21,340.05 L250.80,339.46 L249.39,340.05 L249.52,338.53 L248.52,337.37 L250.01,337.02Z" fill="#e2101a"/>
</g>
<rect x="31.5" y="203.5" width="229.5" height="146.89999999999998" fill="none" stroke="#4f4f4f" stroke-width="1.1"/>
<line x1="41.80" y1="350.4" x2="41.80" y2="353.29999999999995" stroke="#4f4f4f" stroke-width="1.0"/>
<text x="41.80" y="360.80" font-size="8.3" text-anchor="middle" fill="#262626" textLength="3.96" lengthAdjust="spacingAndGlyphs">0</text>
<line x1="77.83" y1="350.4" x2="77.83" y2="353.29999999999995" stroke="#4f4f4f" stroke-width="1.0"/>
<text x="77.83" y="360.80" font-size="8.3" text-anchor="middle" fill="#262626" textLength="3.96" lengthAdjust="spacingAndGlyphs">5</text>
<line x1="113.87" y1="350.4" x2="113.87" y2="353.29999999999995" stroke="#4f4f4f" stroke-width="1.0"/>
<text x="113.87" y="360.80" font-size="8.3" text-anchor="middle" fill="#262626" textLength="7.92" lengthAdjust="spacingAndGlyphs">10</text>
<line x1="149.91" y1="350.4" x2="149.91" y2="353.29999999999995" stroke="#4f4f4f" stroke-width="1.0"/>
<text x="149.91" y="360.80" font-size="8.3" text-anchor="middle" fill="#262626" textLength="7.92" lengthAdjust="spacingAndGlyphs">15</text>
<line x1="185.94" y1="350.4" x2="185.94" y2="353.29999999999995" stroke="#4f4f4f" stroke-width="1.0"/>
<text x="185.94" y="360.80" font-size="8.3" text-anchor="middle" fill="#262626" textLength="7.92" lengthAdjust="spacingAndGlyphs">20</text>
<line x1="221.97" y1="350.4" x2="221.97" y2="353.29999999999995" stroke="#4f4f4f" stroke-width="1.0"/>
<text x="221.97" y="360.80" font-size="8.3" text-anchor="middle" fill="#262626" textLength="7.92" lengthAdjust="spacingAndGlyphs">25</text>
<line x1="258.01" y1="350.4" x2="258.01" y2="353.29999999999995" stroke="#4f4f4f" stroke-width="1.0"/>
<text x="258.01" y="360.80" font-size="8.3" text-anchor="middle" fill="#262626" textLength="7.92" lengthAdjust="spacingAndGlyphs">30</text>
<line x1="28.6" y1="346.70" x2="31.5" y2="346.70" stroke="#4f4f4f" stroke-width="1.0"/>
<text x="25.3" y="349.45" font-size="8.3" text-anchor="end" fill="#262626" textLength="9.90" lengthAdjust="spacingAndGlyphs">0.0</text>
<line x1="28.6" y1="329.93" x2="31.5" y2="329.93" stroke="#4f4f4f" stroke-width="1.0"/>
<text x="25.3" y="332.68" font-size="8.3" text-anchor="end" fill="#262626" textLength="9.90" lengthAdjust="spacingAndGlyphs">0.5</text>
<line x1="28.6" y1="313.15" x2="31.5" y2="313.15" stroke="#4f4f4f" stroke-width="1.0"/>
<text x="25.3" y="315.90" font-size="8.3" text-anchor="end" fill="#262626" textLength="9.90" lengthAdjust="spacingAndGlyphs">1.0</text>
<line x1="28.6" y1="296.38" x2="31.5" y2="296.38" stroke="#4f4f4f" stroke-width="1.0"/>
<text x="25.3" y="299.12" font-size="8.3" text-anchor="end" fill="#262626" textLength="9.90" lengthAdjust="spacingAndGlyphs">1.5</text>
<line x1="28.6" y1="279.60" x2="31.5" y2="279.60" stroke="#4f4f4f" stroke-width="1.0"/>
<text x="25.3" y="282.35" font-size="8.3" text-anchor="end" fill="#262626" textLength="9.90" lengthAdjust="spacingAndGlyphs">2.0</text>
<line x1="28.6" y1="262.82" x2="31.5" y2="262.82" stroke="#4f4f4f" stroke-width="1.0"/>
<text x="25.3" y="265.57" font-size="8.3" text-anchor="end" fill="#262626" textLength="9.90" lengthAdjust="spacingAndGlyphs">2.5</text>
<line x1="28.6" y1="246.05" x2="31.5" y2="246.05" stroke="#4f4f4f" stroke-width="1.0"/>
<text x="25.3" y="248.80" font-size="8.3" text-anchor="end" fill="#262626" textLength="9.90" lengthAdjust="spacingAndGlyphs">3.0</text>
<line x1="28.6" y1="229.28" x2="31.5" y2="229.28" stroke="#4f4f4f" stroke-width="1.0"/>
<text x="25.3" y="232.03" font-size="8.3" text-anchor="end" fill="#262626" textLength="9.90" lengthAdjust="spacingAndGlyphs">3.5</text>
<line x1="28.6" y1="212.50" x2="31.5" y2="212.50" stroke="#4f4f4f" stroke-width="1.0"/>
<text x="25.3" y="215.25" font-size="8.3" text-anchor="end" fill="#262626" textLength="9.90" lengthAdjust="spacingAndGlyphs">4.0</text>
<text x="146.2" y="199.7" font-size="9.0" text-anchor="middle" fill="#262626" textLength="94.2" lengthAdjust="spacingAndGlyphs">Model Accuracy &amp; Loss</text>
<text x="145.6" y="370.5" font-size="7.6" text-anchor="middle" fill="#262626" textLength="20.2" lengthAdjust="spacingAndGlyphs">Epoch</text>
<text transform="translate(10.4,277.4) rotate(-90)" x="0" y="0" font-size="7.6" text-anchor="middle" fill="#262626" textLength="55" lengthAdjust="spacingAndGlyphs">Accuracy &amp; Loss</text>
<rect x="217.5" y="266.5" width="40.10000000000002" height="21.600000000000023" rx="1.6" fill="#fff" fill-opacity="0.85" stroke="#d9d9d9" stroke-width="0.8"/>
<line x1="219.7" y1="272.10" x2="234.3" y2="272.10" stroke="#1283d2" stroke-width="1.6"/>
<path d="M227.70,269.70 L228.49,271.01 L229.98,271.36 L228.98,272.52 L229.11,274.04 L227.70,273.45 L226.29,274.04 L226.42,272.52 L225.42,271.36 L226.91,271.01Z" fill="#1283d2"/>
<text x="239.3" y="274.70" font-size="7.6" fill="#262626" textLength="14.9" lengthAdjust="spacingAndGlyphs">train</text>
<line x1="219.7" y1="282.20" x2="234.3" y2="282.20" stroke="#e2101a" stroke-width="1.6"/>
<path d="M227.70,279.80 L228.49,281.11 L229.98,281.46 L228.98,282.62 L229.11,284.14 L227.70,283.55 L226.29,284.14 L226.42,282.62 L225.42,281.46 L226.91,281.11Z" fill="#e2101a"/>
<text x="239.3" y="284.80" font-size="7.6" fill="#262626" textLength="12.3" lengthAdjust="spacingAndGlyphs">test</text>
<text x="177.8" y="217.6" font-size="10.2" fill="#111" style="stroke:#111;stroke-width:0.22px" textLength="58.2" lengthAdjust="spacingAndGlyphs">Piston Data</text>
<clipPath id="c3"><rect x="309.0" y="200.0" width="235.29999999999995" height="153.3"/></clipPath>
<g clip-path="url(#c3)">
<polyline points="322.80,284.44 335.78,276.33 348.76,276.33 361.74,275.44 374.72,275.70 387.70,275.95 400.68,275.32 413.66,264.67 426.64,251.24 439.62,248.33 452.60,239.59 465.58,234.39 478.56,232.62 491.54,233.63 504.52,229.96 517.50,230.72 530.48,229.96" fill="none" stroke="#1283d2" stroke-width="1.45" stroke-linejoin="round" stroke-linecap="round"/>
<path d="M322.80,282.04 L323.59,283.35 L325.08,283.70 L324.08,284.86 L324.21,286.38 L322.80,285.79 L321.39,286.38 L321.52,284.86 L320.52,283.70 L322.01,283.35Z M335.78,273.93 L336.57,275.24 L338.06,275.59 L337.06,276.75 L337.19,278.27 L335.78,277.68 L334.37,278.27 L334.50,276.75 L333.50,275.59 L334.99,275.24Z M348.76,273.93 L349.55,275.24 L351.04,275.59 L350.04,276.75 L350.17,278.27 L348.76,277.68 L347.35,278.27 L347.48,276.75 L346.48,275.59 L347.97,275.24Z M361.74,273.04 L362.53,274.35 L364.02,274.70 L363.02,275.86 L363.15,277.39 L361.74,276.79 L360.33,277.39 L360.46,275.86 L359.46,274.70 L360.95,274.35Z M374.72,273.30 L375.51,274.61 L377.00,274.96 L376.00,276.11 L376.13,277.64 L374.72,277.05 L373.31,277.64 L373.44,276.11 L372.44,274.96 L373.93,274.61Z M387.70,273.55 L388.49,274.86 L389.98,275.21 L388.98,276.37 L389.11,277.89 L387.70,277.30 L386.29,277.89 L386.42,276.37 L385.42,275.21 L386.91,274.86Z M400.68,272.92 L401.47,274.23 L402.96,274.58 L401.96,275.73 L402.09,277.26 L400.68,276.67 L399.27,277.26 L399.40,275.73 L398.40,274.58 L399.89,274.23Z M413.66,262.27 L414.45,263.58 L415.94,263.93 L414.94,265.09 L415.07,266.62 L413.66,266.02 L412.25,266.62 L412.38,265.09 L411.38,263.93 L412.87,263.58Z M426.64,248.84 L427.43,250.15 L428.92,250.50 L427.92,251.66 L428.05,253.19 L426.64,252.59 L425.23,253.19 L425.36,251.66 L424.36,250.50 L425.85,250.15Z M439.62,245.93 L440.41,247.24 L441.90,247.59 L440.90,248.75 L441.03,250.27 L439.62,249.68 L438.21,250.27 L438.34,248.75 L437.34,247.59 L438.83,247.24Z M452.60,237.19 L453.39,238.50 L454.88,238.85 L453.88,240.01 L454.01,241.53 L452.60,240.94 L451.19,241.53 L451.32,240.01 L450.32,238.85 L451.81,238.50Z M465.58,231.99 L466.37,233.30 L467.86,233.65 L466.86,234.81 L466.99,236.33 L465.58,235.74 L464.17,236.33 L464.30,234.81 L463.30,233.65 L464.79,233.30Z M478.56,230.22 L479.35,231.53 L480.84,231.88 L479.84,233.04 L479.97,234.56 L478.56,233.97 L477.15,234.56 L477.28,233.04 L476.28,231.88 L477.77,231.53Z M491.54,231.23 L492.33,232.54 L493.82,232.89 L492.82,234.05 L492.95,235.57 L491.54,234.98 L490.13,235.57 L490.26,234.05 L489.26,232.89 L490.75,232.54Z M504.52,227.56 L505.31,228.87 L506.80,229.22 L505.80,230.38 L505.93,231.90 L504.52,231.31 L503.11,231.90 L503.24,230.38 L502.24,229.22 L503.73,228.87Z M517.50,228.32 L518.29,229.63 L519.78,229.98 L518.78,231.14 L518.91,232.66 L517.50,232.07 L516.09,232.66 L516.22,231.14 L515.22,229.98 L516.71,229.63Z M530.48,227.56 L531.27,228.87 L532.76,229.22 L531.76,230.38 L531.89,231.90 L530.48,231.31 L529.07,231.90 L529.20,230.38 L528.20,229.22 L529.69,228.87Z" fill="#1283d2"/>
<polyline points="322.80,267.84 335.78,270.50 348.76,272.66 361.74,275.44 374.72,278.74 387.70,284.44 400.68,290.01 413.66,292.68 426.64,301.16 439.62,306.87 452.60,312.95 465.58,319.03 478.56,325.62 491.54,330.94 504.52,336.77 517.50,340.57 530.48,343.36" fill="none" stroke="#ff8214" stroke-width="1.45" stroke-linejoin="round" stroke-linecap="round"/>
<path d="M322.80,265.44 L323.59,266.75 L325.08,267.10 L324.08,268.26 L324.21,269.78 L322.80,269.19 L321.39,269.78 L321.52,268.26 L320.52,267.10 L322.01,266.75Z M335.78,268.10 L336.57,269.41 L338.06,269.76 L337.06,270.92 L337.19,272.44 L335.78,271.85 L334.37,272.44 L334.50,270.92 L333.50,269.76 L334.99,269.41Z M348.76,270.26 L349.55,271.56 L351.04,271.92 L350.04,273.07 L350.17,274.60 L348.76,274.01 L347.35,274.60 L347.48,273.07 L346.48,271.92 L347.97,271.56Z M361.74,273.04 L362.53,274.35 L364.02,274.70 L363.02,275.86 L363.15,277.39 L361.74,276.79 L360.33,277.39 L360.46,275.86 L359.46,274.70 L360.95,274.35Z M374.72,276.34 L375.51,277.65 L377.00,278.00 L376.00,279.16 L376.13,280.68 L374.72,280.09 L373.31,280.68 L373.44,279.16 L372.44,278.00 L373.93,277.65Z M387.70,282.04 L388.49,283.35 L389.98,283.70 L388.98,284.86 L389.11,286.38 L387.70,285.79 L386.29,286.38 L386.42,284.86 L385.42,283.70 L386.91,283.35Z M400.68,287.61 L401.47,288.92 L402.96,289.27 L401.96,290.43 L402.09,291.96 L400.68,291.36 L399.27,291.96 L399.40,290.43 L398.40,289.27 L399.89,288.92Z M413.66,290.28 L414.45,291.58 L415.94,291.93 L414.94,293.09 L415.07,294.62 L413.66,294.03 L412.25,294.62 L412.38,293.09 L411.38,291.93 L412.87,291.58Z M426.64,298.76 L427.43,300.07 L428.92,300.42 L427.92,301.58 L428.05,303.11 L426.64,302.51 L425.23,303.11 L425.36,301.58 L424.36,300.42 L425.85,300.07Z M439.62,304.47 L440.41,305.77 L441.90,306.12 L440.90,307.28 L441.03,308.81 L439.62,308.22 L438.21,308.81 L438.34,307.28 L437.34,306.12 L438.83,305.77Z M452.60,310.55 L453.39,311.86 L454.88,312.21 L453.88,313.36 L454.01,314.89 L452.60,314.30 L451.19,314.89 L451.32,313.36 L450.32,312.21 L451.81,311.86Z M465.58,316.63 L466.37,317.94 L467.86,318.29 L466.86,319.45 L466.99,320.97 L465.58,320.38 L464.17,320.97 L464.30,319.45 L463.30,318.29 L464.79,317.94Z M478.56,323.22 L479.35,324.53 L480.84,324.88 L479.84,326.03 L479.97,327.56 L478.56,326.97 L477.15,327.56 L477.28,326.03 L476.28,324.88 L477.77,324.53Z M491.54,328.54 L492.33,329.85 L493.82,330.20 L492.82,331.36 L492.95,332.88 L491.54,332.29 L490.13,332.88 L490.26,331.36 L489.26,330.20 L490.75,329.85Z M504.52,334.37 L505.31,335.67 L506.80,336.03 L505.80,337.18 L505.93,338.71 L504.52,338.12 L503.11,338.71 L503.24,337.18 L502.24,336.03 L503.73,335.67Z M517.50,338.17 L518.29,339.48 L519.78,339.83 L518.78,340.99 L518.91,342.51 L517.50,341.92 L516.09,342.51 L516.22,340.99 L515.22,339.83 L516.71,339.48Z M530.48,340.96 L531.27,342.26 L532.76,342.61 L531.76,343.77 L531.89,345.30 L530.48,344.71 L529.07,345.30 L529.20,343.77 L528.20,342.61 L529.69,342.26Z" fill="#ff8214"/>
<polyline points="322.80,272.15 335.78,271.90 348.76,272.66 361.74,273.16 374.72,274.56 387.70,269.36 400.68,261.89 413.66,274.05 426.64,274.05 439.62,261.89 452.60,259.10 465.58,246.05 478.56,251.12 491.54,238.83 504.52,245.42 517.50,236.29 530.48,209.31" fill="none" stroke="#e2101a" stroke-width="1.45" stroke-linejoin="round" stroke-linecap="round"/>
<path d="M322.80,269.75 L323.59,271.06 L325.08,271.41 L324.08,272.57 L324.21,274.09 L322.80,273.50 L321.39,274.09 L321.52,272.57 L320.52,271.41 L322.01,271.06Z M335.78,269.50 L336.57,270.80 L338.06,271.15 L337.06,272.31 L337.19,273.84 L335.78,273.25 L334.37,273.84 L334.50,272.31 L333.50,271.15 L334.99,270.80Z M348.76,270.26 L349.55,271.56 L351.04,271.92 L350.04,273.07 L350.17,274.60 L348.76,274.01 L347.35,274.60 L347.48,273.07 L346.48,271.92 L347.97,271.56Z M361.74,270.76 L362.53,272.07 L364.02,272.42 L363.02,273.58 L363.15,275.11 L361.74,274.51 L360.33,275.11 L360.46,273.58 L359.46,272.42 L360.95,272.07Z M374.72,272.16 L375.51,273.47 L377.00,273.82 L376.00,274.97 L376.13,276.50 L374.72,275.91 L373.31,276.50 L373.44,274.97 L372.44,273.82 L373.93,273.47Z M387.70,266.96 L388.49,268.27 L389.98,268.62 L388.98,269.78 L389.11,271.30 L387.70,270.71 L386.29,271.30 L386.42,269.78 L385.42,268.62 L386.91,268.27Z M400.68,259.49 L401.47,260.80 L402.96,261.15 L401.96,262.30 L402.09,263.83 L400.68,263.24 L399.27,263.83 L399.40,262.30 L398.40,261.15 L399.89,260.80Z M413.66,271.65 L414.45,272.96 L415.94,273.31 L414.94,274.47 L415.07,275.99 L413.66,275.40 L412.25,275.99 L412.38,274.47 L411.38,273.31 L412.87,272.96Z M426.64,271.65 L427.43,272.96 L428.92,273.31 L427.92,274.47 L428.05,275.99 L426.64,275.40 L425.23,275.99 L425.36,274.47 L424.36,273.31 L425.85,272.96Z M439.62,259.49 L440.41,260.80 L441.90,261.15 L440.90,262.30 L441.03,263.83 L439.62,263.24 L438.21,263.83 L438.34,262.30 L437.34,261.15 L438.83,260.80Z M452.60,256.70 L453.39,258.01 L454.88,258.36 L453.88,259.52 L454.01,261.04 L452.60,260.45 L451.19,261.04 L451.32,259.52 L450.32,258.36 L451.81,258.01Z M465.58,243.65 L466.37,244.96 L467.86,245.31 L466.86,246.47 L466.99,247.99 L465.58,247.40 L464.17,247.99 L464.30,246.47 L463.30,245.31 L464.79,244.96Z M478.56,248.72 L479.35,250.03 L480.84,250.38 L479.84,251.53 L479.97,253.06 L478.56,252.47 L477.15,253.06 L477.28,251.53 L476.28,250.38 L477.77,250.03Z M491.54,236.43 L492.33,237.74 L493.82,238.09 L492.82,239.24 L492.95,240.77 L491.54,240.18 L490.13,240.77 L490.26,239.24 L489.26,238.09 L490.75,237.74Z M504.52,243.02 L505.31,244.32 L506.80,244.67 L505.80,245.83 L505.93,247.36 L504.52,246.77 L503.11,247.36 L503.24,245.83 L502.24,244.67 L503.73,244.32Z M517.50,233.89 L518.29,235.20 L519.78,235.55 L518.78,236.71 L518.91,238.24 L517.50,237.64 L516.09,238.24 L516.22,236.71 L515.22,235.55 L516.71,235.20Z M530.48,206.91 L531.27,208.21 L532.76,208.57 L531.76,209.72 L531.89,211.25 L530.48,210.66 L529.07,211.25 L529.20,209.72 L528.20,208.57 L529.69,208.21Z" fill="#e2101a"/>
<polyline points="322.80,274.30 335.78,273.80 348.76,273.80 361.74,274.30 374.72,274.56 387.70,274.30 400.68,275.44 413.66,274.05 426.64,265.56 439.62,266.07 452.60,261.89 465.58,261.89 478.56,264.93 491.54,261.89 504.52,264.93 517.50,264.93 530.48,261.89" fill="none" stroke="#e2101a" stroke-width="1.45" stroke-linejoin="round" stroke-linecap="round"/>
<path d="M322.80,271.90 L323.59,273.21 L325.08,273.56 L324.08,274.72 L324.21,276.25 L322.80,275.65 L321.39,276.25 L321.52,274.72 L320.52,273.56 L322.01,273.21Z M335.78,271.40 L336.57,272.70 L338.06,273.06 L337.06,274.21 L337.19,275.74 L335.78,275.15 L334.37,275.74 L334.50,274.21 L333.50,273.06 L334.99,272.70Z M348.76,271.40 L349.55,272.70 L351.04,273.06 L350.04,274.21 L350.17,275.74 L348.76,275.15 L347.35,275.74 L347.48,274.21 L346.48,273.06 L347.97,272.70Z M361.74,271.90 L362.53,273.21 L364.02,273.56 L363.02,274.72 L363.15,276.25 L361.74,275.65 L360.33,276.25 L360.46,274.72 L359.46,273.56 L360.95,273.21Z M374.72,272.16 L375.51,273.47 L377.00,273.82 L376.00,274.97 L376.13,276.50 L374.72,275.91 L373.31,276.50 L373.44,274.97 L372.44,273.82 L373.93,273.47Z M387.70,271.90 L388.49,273.21 L389.98,273.56 L388.98,274.72 L389.11,276.25 L387.70,275.65 L386.29,276.25 L386.42,274.72 L385.42,273.56 L386.91,273.21Z M400.68,273.04 L401.47,274.35 L402.96,274.70 L401.96,275.86 L402.09,277.39 L400.68,276.79 L399.27,277.39 L399.40,275.86 L398.40,274.70 L399.89,274.35Z M413.66,271.65 L414.45,272.96 L415.94,273.31 L414.94,274.47 L415.07,275.99 L413.66,275.40 L412.25,275.99 L412.38,274.47 L411.38,273.31 L412.87,272.96Z M426.64,263.16 L427.43,264.47 L428.92,264.82 L427.92,265.98 L428.05,267.50 L426.64,266.91 L425.23,267.50 L425.36,265.98 L424.36,264.82 L425.85,264.47Z M439.62,263.67 L440.41,264.98 L441.90,265.33 L440.90,266.49 L441.03,268.01 L439.62,267.42 L438.21,268.01 L438.34,266.49 L437.34,265.33 L438.83,264.98Z M452.60,259.49 L453.39,260.80 L454.88,261.15 L453.88,262.30 L454.01,263.83 L452.60,263.24 L451.19,263.83 L451.32,262.30 L450.32,261.15 L451.81,260.80Z M465.58,259.49 L466.37,260.80 L467.86,261.15 L466.86,262.30 L466.99,263.83 L465.58,263.24 L464.17,263.83 L464.30,262.30 L463.30,261.15 L464.79,260.80Z M478.56,262.53 L479.35,263.84 L480.84,264.19 L479.84,265.35 L479.97,266.87 L478.56,266.28 L477.15,266.87 L477.28,265.35 L476.28,264.19 L477.77,263.84Z M491.54,259.49 L492.33,260.80 L493.82,261.15 L492.82,262.30 L492.95,263.83 L491.54,263.24 L490.13,263.83 L490.26,262.30 L489.26,261.15 L490.75,260.80Z M504.52,262.53 L505.31,263.84 L506.80,264.19 L505.80,265.35 L505.93,266.87 L504.52,266.28 L503.11,266.87 L503.24,265.35 L502.24,264.19 L503.73,263.84Z M517.50,262.53 L518.29,263.84 L519.78,264.19 L518.78,265.35 L518.91,266.87 L517.50,266.28 L516.09,266.87 L516.22,265.35 L515.22,264.19 L516.71,263.84Z M530.48,259.49 L531.27,260.80 L532.76,261.15 L531.76,262.30 L531.89,263.83 L530.48,263.24 L529.07,263.83 L529.20,262.30 L528.20,261.15 L529.69,260.80Z" fill="#e2101a"/>
</g>
<rect x="312.0" y="203.0" width="229.29999999999995" height="147.3" fill="none" stroke="#4f4f4f" stroke-width="1.1"/>
<line x1="322.80" y1="350.3" x2="322.80" y2="353.2" stroke="#4f4f4f" stroke-width="1.0"/>
<text x="322.80" y="360.70" font-size="8.3" text-anchor="middle" fill="#262626" textLength="3.96" lengthAdjust="spacingAndGlyphs">0</text>
<line x1="348.76" y1="350.3" x2="348.76" y2="353.2" stroke="#4f4f4f" stroke-width="1.0"/>
<text x="348.76" y="360.70" font-size="8.3" text-anchor="middle" fill="#262626" textLength="3.96" lengthAdjust="spacingAndGlyphs">2</text>
<line x1="374.72" y1="350.3" x2="374.72" y2="353.2" stroke="#4f4f4f" stroke-width="1.0"/>
<text x="374.72" y="360.70" font-size="8.3" text-anchor="middle" fill="#262626" textLength="3.96" lengthAdjust="spacingAndGlyphs">4</text>
<line x1="400.68" y1="350.3" x2="400.68" y2="353.2" stroke="#4f4f4f" stroke-width="1.0"/>
<text x="400.68" y="360.70" font-size="8.3" text-anchor="middle" fill="#262626" textLength="3.96" lengthAdjust="spacingAndGlyphs">6</text>
<line x1="426.64" y1="350.3" x2="426.64" y2="353.2" stroke="#4f4f4f" stroke-width="1.0"/>
<text x="426.64" y="360.70" font-size="8.3" text-anchor="middle" fill="#262626" textLength="3.96" lengthAdjust="spacingAndGlyphs">8</text>
<line x1="452.60" y1="350.3" x2="452.60" y2="353.2" stroke="#4f4f4f" stroke-width="1.0"/>
<text x="452.60" y="360.70" font-size="8.3" text-anchor="middle" fill="#262626" textLength="7.92" lengthAdjust="spacingAndGlyphs">10</text>
<line x1="478.56" y1="350.3" x2="478.56" y2="353.2" stroke="#4f4f4f" stroke-width="1.0"/>
<text x="478.56" y="360.70" font-size="8.3" text-anchor="middle" fill="#262626" textLength="7.92" lengthAdjust="spacingAndGlyphs">12</text>
<line x1="504.52" y1="350.3" x2="504.52" y2="353.2" stroke="#4f4f4f" stroke-width="1.0"/>
<text x="504.52" y="360.70" font-size="8.3" text-anchor="middle" fill="#262626" textLength="7.92" lengthAdjust="spacingAndGlyphs">14</text>
<line x1="530.48" y1="350.3" x2="530.48" y2="353.2" stroke="#4f4f4f" stroke-width="1.0"/>
<text x="530.48" y="360.70" font-size="8.3" text-anchor="middle" fill="#262626" textLength="7.92" lengthAdjust="spacingAndGlyphs">16</text>
<line x1="309.1" y1="330.81" x2="312.0" y2="330.81" stroke="#4f4f4f" stroke-width="1.0"/>
<text x="305.8" y="333.56" font-size="8.3" text-anchor="end" fill="#262626" textLength="9.90" lengthAdjust="spacingAndGlyphs">0.2</text>
<line x1="309.1" y1="305.47" x2="312.0" y2="305.47" stroke="#4f4f4f" stroke-width="1.0"/>
<text x="305.8" y="308.22" font-size="8.3" text-anchor="end" fill="#262626" textLength="9.90" lengthAdjust="spacingAndGlyphs">0.4</text>
<line x1="309.1" y1="280.13" x2="312.0" y2="280.13" stroke="#4f4f4f" stroke-width="1.0"/>
<text x="305.8" y="282.88" font-size="8.3" text-anchor="end" fill="#262626" textLength="9.90" lengthAdjust="spacingAndGlyphs">0.6</text>
<line x1="309.1" y1="254.79" x2="312.0" y2="254.79" stroke="#4f4f4f" stroke-width="1.0"/>
<text x="305.8" y="257.54" font-size="8.3" text-anchor="end" fill="#262626" textLength="9.90" lengthAdjust="spacingAndGlyphs">0.8</text>
<line x1="309.1" y1="229.45" x2="312.0" y2="229.45" stroke="#4f4f4f" stroke-width="1.0"/>
<text x="305.8" y="232.20" font-size="8.3" text-anchor="end" fill="#262626" textLength="9.90" lengthAdjust="spacingAndGlyphs">1.0</text>
<line x1="309.1" y1="204.11" x2="312.0" y2="204.11" stroke="#4f4f4f" stroke-width="1.0"/>
<text x="305.8" y="206.86" font-size="8.3" text-anchor="end" fill="#262626" textLength="9.90" lengthAdjust="spacingAndGlyphs">1.2</text>
<text x="426.7" y="199.2" font-size="9.0" text-anchor="middle" fill="#262626" textLength="94.2" lengthAdjust="spacingAndGlyphs">Model Accuracy &amp; Loss</text>
<text x="426.0" y="370.2" font-size="7.6" text-anchor="middle" fill="#262626" textLength="20.2" lengthAdjust="spacingAndGlyphs">Epoch</text>
<text transform="translate(292.0,276.6) rotate(-90)" x="0" y="0" font-size="7.6" text-anchor="middle" fill="#262626" textLength="55" lengthAdjust="spacingAndGlyphs">Accuracy &amp; Loss</text>
<rect x="497.5" y="265.9" width="40.10000000000002" height="21.900000000000034" rx="1.6" fill="#fff" fill-opacity="0.85" stroke="#d9d9d9" stroke-width="0.8"/>
<line x1="499.7" y1="271.50" x2="514.3" y2="271.50" stroke="#1283d2" stroke-width="1.6"/>
<path d="M507.70,269.10 L508.49,270.41 L509.98,270.76 L508.98,271.92 L509.11,273.44 L507.70,272.85 L506.29,273.44 L506.42,271.92 L505.42,270.76 L506.91,270.41Z" fill="#1283d2"/>
<text x="519.3" y="274.10" font-size="7.6" fill="#262626" textLength="14.9" lengthAdjust="spacingAndGlyphs">train</text>
<line x1="499.7" y1="281.60" x2="514.3" y2="281.60" stroke="#e2101a" stroke-width="1.6"/>
<path d="M507.70,279.20 L508.49,280.51 L509.98,280.86 L508.98,282.02 L509.11,283.54 L507.70,282.95 L506.29,283.54 L506.42,282.02 L505.42,280.86 L506.91,280.51Z" fill="#e2101a"/>
<text x="519.3" y="284.20" font-size="7.6" fill="#262626" textLength="12.3" lengthAdjust="spacingAndGlyphs">test</text>
<text x="324.1" y="342.7" font-size="10.2" fill="#111" style="stroke:#111;stroke-width:0.22px" textLength="46.9" lengthAdjust="spacingAndGlyphs">PCB Data</text>
<circle cx="396.6" cy="10.4" r="0.9" fill="#2a2ae0"/>
<circle cx="459.2" cy="19.7" r="0.8" fill="#2a2ae0"/>
</svg>
</body></html>
